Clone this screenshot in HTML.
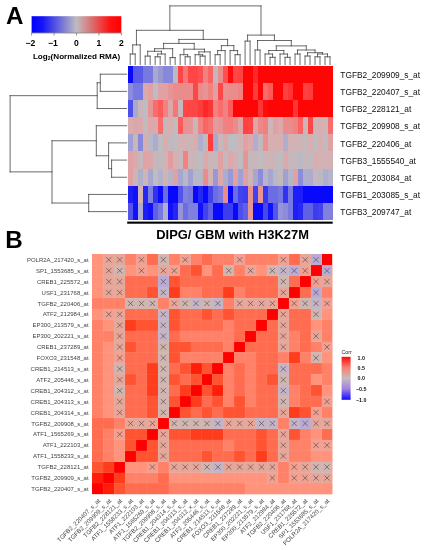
<!DOCTYPE html>
<html><head><meta charset="utf-8"><title>Figure</title>
<style>
html,body{margin:0;padding:0;background:#fff;}
body{width:425px;height:550px;overflow:hidden;font-family:"Liberation Sans",Arial,Helvetica,sans-serif;}
svg{display:block;position:absolute;left:0;top:0;}
text{font-family:"Liberation Sans",Arial,Helvetica,sans-serif;}
</style></head>
<body>
<svg width="425" height="550" viewBox="0 0 425 550">
<defs>
<linearGradient id="cbA" x1="0" x2="1" y1="0" y2="0">
<stop offset="0" stop-color="#0000ff"/><stop offset="0.12" stop-color="#1414f8"/><stop offset="0.5" stop-color="#bebcc0"/><stop offset="0.88" stop-color="#ff1010"/><stop offset="1" stop-color="#ff0000"/>
</linearGradient>
<linearGradient id="cbB" x1="0" x2="0" y1="0" y2="1">
<stop offset="0" stop-color="#ff0a05"/><stop offset="0.25" stop-color="#f48070"/><stop offset="0.5" stop-color="#c8bcbc"/><stop offset="0.75" stop-color="#a080e0"/><stop offset="1" stop-color="#1208ff"/>
</linearGradient>
</defs>
<rect width="425" height="550" fill="#ffffff"/>
<!-- Panel A -->
<text x="6" y="24" font-size="24.2" font-weight="bold" fill="#000">A</text>
<rect x="31.6" y="16.2" width="89.7" height="16.6" fill="url(#cbA)"/>
<path d="M31.2 33H121.7M31.6 33V35.6M54.1 33V35.6M76.5 33V35.6M98.9 33V35.6M121.3 33V35.6" stroke="#555" stroke-width="0.6" fill="none"/>
<g font-size="8.6" font-weight="bold" fill="#000"><text x="30.4" y="46.4" text-anchor="middle">−2</text><text x="52.9" y="46.4" text-anchor="middle">−1</text><text x="76.5" y="46.4" text-anchor="middle">0</text><text x="98.9" y="46.4" text-anchor="middle">1</text><text x="121.3" y="46.4" text-anchor="middle">2</text></g>
<text x="76.6" y="58.8" font-size="8.1" font-weight="bold" fill="#000" text-anchor="middle">Log<tspan font-size="5.2" dy="1.6">2</tspan><tspan dy="-1.6">(Normalized RMA)</tspan></text>
<g shape-rendering="crispEdges">
<rect x="127.70" y="65.60" width="5.05" height="17.23" fill="#0808fc"/>
<rect x="132.70" y="65.60" width="5.05" height="17.23" fill="#5a5ae8"/>
<rect x="137.69" y="65.60" width="5.05" height="17.23" fill="#5a5ae8"/>
<rect x="142.69" y="65.60" width="5.05" height="17.23" fill="#7878e1"/>
<rect x="147.68" y="65.60" width="5.05" height="17.23" fill="#7878e1"/>
<rect x="152.68" y="65.60" width="5.05" height="17.23" fill="#a9a9cf"/>
<rect x="157.67" y="65.60" width="5.05" height="17.23" fill="#9898d5"/>
<rect x="162.67" y="65.60" width="5.05" height="17.23" fill="#8888db"/>
<rect x="167.66" y="65.60" width="5.05" height="17.23" fill="#8888db"/>
<rect x="172.66" y="65.60" width="5.05" height="17.23" fill="#bbb9c3"/>
<rect x="177.65" y="65.60" width="5.05" height="17.23" fill="#ff4646"/>
<rect x="182.65" y="65.60" width="5.05" height="17.23" fill="#f67575"/>
<rect x="187.64" y="65.60" width="5.05" height="17.23" fill="#ff4646"/>
<rect x="192.64" y="65.60" width="5.05" height="17.23" fill="#ff4646"/>
<rect x="197.63" y="65.60" width="5.05" height="17.23" fill="#ff5050"/>
<rect x="202.63" y="65.60" width="5.05" height="17.23" fill="#f08282"/>
<rect x="207.62" y="65.60" width="5.05" height="17.23" fill="#fc6363"/>
<rect x="212.62" y="65.60" width="5.05" height="17.23" fill="#c8b7ba"/>
<rect x="217.61" y="65.60" width="5.05" height="17.23" fill="#eb8c8c"/>
<rect x="222.61" y="65.60" width="5.05" height="17.23" fill="#ff5050"/>
<rect x="227.60" y="65.60" width="5.05" height="17.23" fill="#ff0d0d"/>
<rect x="232.60" y="65.60" width="5.05" height="17.23" fill="#ff4646"/>
<rect x="237.59" y="65.60" width="5.05" height="17.23" fill="#ff4141"/>
<rect x="242.59" y="65.60" width="5.05" height="17.23" fill="#ff0606"/>
<rect x="247.58" y="65.60" width="5.05" height="17.23" fill="#ff0606"/>
<rect x="252.58" y="65.60" width="5.05" height="17.23" fill="#ff2828"/>
<rect x="257.57" y="65.60" width="5.05" height="17.23" fill="#ff0606"/>
<rect x="262.57" y="65.60" width="5.05" height="17.23" fill="#ff0606"/>
<rect x="267.56" y="65.60" width="5.05" height="17.23" fill="#ff0606"/>
<rect x="272.56" y="65.60" width="5.05" height="17.23" fill="#ff0606"/>
<rect x="277.55" y="65.60" width="5.05" height="17.23" fill="#ff0606"/>
<rect x="282.55" y="65.60" width="5.05" height="17.23" fill="#ff0606"/>
<rect x="287.54" y="65.60" width="5.05" height="17.23" fill="#ff0606"/>
<rect x="292.54" y="65.60" width="5.05" height="17.23" fill="#ff0606"/>
<rect x="297.53" y="65.60" width="5.05" height="17.23" fill="#ff0606"/>
<rect x="302.53" y="65.60" width="5.05" height="17.23" fill="#ff0606"/>
<rect x="307.52" y="65.60" width="5.05" height="17.23" fill="#ff0606"/>
<rect x="312.52" y="65.60" width="5.05" height="17.23" fill="#ff0606"/>
<rect x="317.51" y="65.60" width="5.05" height="17.23" fill="#ff0606"/>
<rect x="322.51" y="65.60" width="5.05" height="17.23" fill="#ff0606"/>
<rect x="327.50" y="65.60" width="5.05" height="17.23" fill="#ff0606"/>
<rect x="127.70" y="82.78" width="5.05" height="17.23" fill="#8c8cda"/>
<rect x="132.70" y="82.78" width="5.05" height="17.23" fill="#7878e1"/>
<rect x="137.69" y="82.78" width="5.05" height="17.23" fill="#7878e1"/>
<rect x="142.69" y="82.78" width="5.05" height="17.23" fill="#dba9ab"/>
<rect x="147.68" y="82.78" width="5.05" height="17.23" fill="#e1a0a2"/>
<rect x="152.68" y="82.78" width="5.05" height="17.23" fill="#bebcc0"/>
<rect x="157.67" y="82.78" width="5.05" height="17.23" fill="#e1a0a2"/>
<rect x="162.67" y="82.78" width="5.05" height="17.23" fill="#e1a0a2"/>
<rect x="167.66" y="82.78" width="5.05" height="17.23" fill="#e79495"/>
<rect x="172.66" y="82.78" width="5.05" height="17.23" fill="#eb8c8c"/>
<rect x="177.65" y="82.78" width="5.05" height="17.23" fill="#eb8c8c"/>
<rect x="182.65" y="82.78" width="5.05" height="17.23" fill="#eb8c8c"/>
<rect x="187.64" y="82.78" width="5.05" height="17.23" fill="#eb8c8c"/>
<rect x="192.64" y="82.78" width="5.05" height="17.23" fill="#ff4646"/>
<rect x="197.63" y="82.78" width="5.05" height="17.23" fill="#eb8c8c"/>
<rect x="202.63" y="82.78" width="5.05" height="17.23" fill="#e79495"/>
<rect x="207.62" y="82.78" width="5.05" height="17.23" fill="#f08282"/>
<rect x="212.62" y="82.78" width="5.05" height="17.23" fill="#e1a0a2"/>
<rect x="217.61" y="82.78" width="5.05" height="17.23" fill="#ff4646"/>
<rect x="222.61" y="82.78" width="5.05" height="17.23" fill="#e99090"/>
<rect x="227.60" y="82.78" width="5.05" height="17.23" fill="#eb8c8c"/>
<rect x="232.60" y="82.78" width="5.05" height="17.23" fill="#eb8c8c"/>
<rect x="237.59" y="82.78" width="5.05" height="17.23" fill="#f08282"/>
<rect x="242.59" y="82.78" width="5.05" height="17.23" fill="#ff0606"/>
<rect x="247.58" y="82.78" width="5.05" height="17.23" fill="#ff0606"/>
<rect x="252.58" y="82.78" width="5.05" height="17.23" fill="#ff3c3c"/>
<rect x="257.57" y="82.78" width="5.05" height="17.23" fill="#ff0606"/>
<rect x="262.57" y="82.78" width="5.05" height="17.23" fill="#fa6c6c"/>
<rect x="267.56" y="82.78" width="5.05" height="17.23" fill="#ff5a5a"/>
<rect x="272.56" y="82.78" width="5.05" height="17.23" fill="#ff0606"/>
<rect x="277.55" y="82.78" width="5.05" height="17.23" fill="#ff0606"/>
<rect x="282.55" y="82.78" width="5.05" height="17.23" fill="#ff4141"/>
<rect x="287.54" y="82.78" width="5.05" height="17.23" fill="#ff3535"/>
<rect x="292.54" y="82.78" width="5.05" height="17.23" fill="#ff0606"/>
<rect x="297.53" y="82.78" width="5.05" height="17.23" fill="#ff0606"/>
<rect x="302.53" y="82.78" width="5.05" height="17.23" fill="#ff4141"/>
<rect x="307.52" y="82.78" width="5.05" height="17.23" fill="#ff3c3c"/>
<rect x="312.52" y="82.78" width="5.05" height="17.23" fill="#ff0606"/>
<rect x="317.51" y="82.78" width="5.05" height="17.23" fill="#ff0606"/>
<rect x="322.51" y="82.78" width="5.05" height="17.23" fill="#ff0606"/>
<rect x="327.50" y="82.78" width="5.05" height="17.23" fill="#ff0606"/>
<rect x="127.70" y="99.96" width="5.05" height="17.23" fill="#4e4eec"/>
<rect x="132.70" y="99.96" width="5.05" height="17.23" fill="#a9a9cf"/>
<rect x="137.69" y="99.96" width="5.05" height="17.23" fill="#c8b7ba"/>
<rect x="142.69" y="99.96" width="5.05" height="17.23" fill="#bebcc0"/>
<rect x="147.68" y="99.96" width="5.05" height="17.23" fill="#e79495"/>
<rect x="152.68" y="99.96" width="5.05" height="17.23" fill="#fa6c6c"/>
<rect x="157.67" y="99.96" width="5.05" height="17.23" fill="#ff5a5a"/>
<rect x="162.67" y="99.96" width="5.05" height="17.23" fill="#f08282"/>
<rect x="167.66" y="99.96" width="5.05" height="17.23" fill="#dda6a8"/>
<rect x="172.66" y="99.96" width="5.05" height="17.23" fill="#f67575"/>
<rect x="177.65" y="99.96" width="5.05" height="17.23" fill="#c8b7ba"/>
<rect x="182.65" y="99.96" width="5.05" height="17.23" fill="#ff4646"/>
<rect x="187.64" y="99.96" width="5.05" height="17.23" fill="#ff4646"/>
<rect x="192.64" y="99.96" width="5.05" height="17.23" fill="#ff4646"/>
<rect x="197.63" y="99.96" width="5.05" height="17.23" fill="#ff3c3c"/>
<rect x="202.63" y="99.96" width="5.05" height="17.23" fill="#ff2828"/>
<rect x="207.62" y="99.96" width="5.05" height="17.23" fill="#ff3535"/>
<rect x="212.62" y="99.96" width="5.05" height="17.23" fill="#f08282"/>
<rect x="217.61" y="99.96" width="5.05" height="17.23" fill="#fa6c6c"/>
<rect x="222.61" y="99.96" width="5.05" height="17.23" fill="#f08282"/>
<rect x="227.60" y="99.96" width="5.05" height="17.23" fill="#ff5a5a"/>
<rect x="232.60" y="99.96" width="5.05" height="17.23" fill="#ff0606"/>
<rect x="237.59" y="99.96" width="5.05" height="17.23" fill="#ff0606"/>
<rect x="242.59" y="99.96" width="5.05" height="17.23" fill="#ff0606"/>
<rect x="247.58" y="99.96" width="5.05" height="17.23" fill="#ff0606"/>
<rect x="252.58" y="99.96" width="5.05" height="17.23" fill="#ff0606"/>
<rect x="257.57" y="99.96" width="5.05" height="17.23" fill="#ff3535"/>
<rect x="262.57" y="99.96" width="5.05" height="17.23" fill="#ff0d0d"/>
<rect x="267.56" y="99.96" width="5.05" height="17.23" fill="#ff0606"/>
<rect x="272.56" y="99.96" width="5.05" height="17.23" fill="#ff0606"/>
<rect x="277.55" y="99.96" width="5.05" height="17.23" fill="#ff0606"/>
<rect x="282.55" y="99.96" width="5.05" height="17.23" fill="#ff0606"/>
<rect x="287.54" y="99.96" width="5.05" height="17.23" fill="#ff0606"/>
<rect x="292.54" y="99.96" width="5.05" height="17.23" fill="#ff3535"/>
<rect x="297.53" y="99.96" width="5.05" height="17.23" fill="#ff0606"/>
<rect x="302.53" y="99.96" width="5.05" height="17.23" fill="#ff0606"/>
<rect x="307.52" y="99.96" width="5.05" height="17.23" fill="#ff0606"/>
<rect x="312.52" y="99.96" width="5.05" height="17.23" fill="#ff0606"/>
<rect x="317.51" y="99.96" width="5.05" height="17.23" fill="#ff0606"/>
<rect x="322.51" y="99.96" width="5.05" height="17.23" fill="#ff0606"/>
<rect x="327.50" y="99.96" width="5.05" height="17.23" fill="#ff0606"/>
<rect x="127.70" y="117.13" width="5.05" height="17.23" fill="#d9acae"/>
<rect x="132.70" y="117.13" width="5.05" height="17.23" fill="#dda6a8"/>
<rect x="137.69" y="117.13" width="5.05" height="17.23" fill="#dba9ab"/>
<rect x="142.69" y="117.13" width="5.05" height="17.23" fill="#c3b9bd"/>
<rect x="147.68" y="117.13" width="5.05" height="17.23" fill="#dda6a8"/>
<rect x="152.68" y="117.13" width="5.05" height="17.23" fill="#dba9ab"/>
<rect x="157.67" y="117.13" width="5.05" height="17.23" fill="#fa6c6c"/>
<rect x="162.67" y="117.13" width="5.05" height="17.23" fill="#c8b7ba"/>
<rect x="167.66" y="117.13" width="5.05" height="17.23" fill="#d7afb1"/>
<rect x="172.66" y="117.13" width="5.05" height="17.23" fill="#bebcc0"/>
<rect x="177.65" y="117.13" width="5.05" height="17.23" fill="#ff5a5a"/>
<rect x="182.65" y="117.13" width="5.05" height="17.23" fill="#e99090"/>
<rect x="187.64" y="117.13" width="5.05" height="17.23" fill="#e79495"/>
<rect x="192.64" y="117.13" width="5.05" height="17.23" fill="#cdb4b7"/>
<rect x="197.63" y="117.13" width="5.05" height="17.23" fill="#f08282"/>
<rect x="202.63" y="117.13" width="5.05" height="17.23" fill="#fc6363"/>
<rect x="207.62" y="117.13" width="5.05" height="17.23" fill="#f87070"/>
<rect x="212.62" y="117.13" width="5.05" height="17.23" fill="#e39c9e"/>
<rect x="217.61" y="117.13" width="5.05" height="17.23" fill="#e79495"/>
<rect x="222.61" y="117.13" width="5.05" height="17.23" fill="#f08282"/>
<rect x="227.60" y="117.13" width="5.05" height="17.23" fill="#f27e7e"/>
<rect x="232.60" y="117.13" width="5.05" height="17.23" fill="#eb8c8c"/>
<rect x="237.59" y="117.13" width="5.05" height="17.23" fill="#dfa3a5"/>
<rect x="242.59" y="117.13" width="5.05" height="17.23" fill="#ff4141"/>
<rect x="247.58" y="117.13" width="5.05" height="17.23" fill="#ff4646"/>
<rect x="252.58" y="117.13" width="5.05" height="17.23" fill="#dda6a8"/>
<rect x="257.57" y="117.13" width="5.05" height="17.23" fill="#ee8787"/>
<rect x="262.57" y="117.13" width="5.05" height="17.23" fill="#f27e7e"/>
<rect x="267.56" y="117.13" width="5.05" height="17.23" fill="#cdb4b7"/>
<rect x="272.56" y="117.13" width="5.05" height="17.23" fill="#e1a0a2"/>
<rect x="277.55" y="117.13" width="5.05" height="17.23" fill="#dba9ab"/>
<rect x="282.55" y="117.13" width="5.05" height="17.23" fill="#eb8c8c"/>
<rect x="287.54" y="117.13" width="5.05" height="17.23" fill="#eb8c8c"/>
<rect x="292.54" y="117.13" width="5.05" height="17.23" fill="#f08282"/>
<rect x="297.53" y="117.13" width="5.05" height="17.23" fill="#fc6363"/>
<rect x="302.53" y="117.13" width="5.05" height="17.23" fill="#cdb4b7"/>
<rect x="307.52" y="117.13" width="5.05" height="17.23" fill="#ff4646"/>
<rect x="312.52" y="117.13" width="5.05" height="17.23" fill="#cdb4b7"/>
<rect x="317.51" y="117.13" width="5.05" height="17.23" fill="#d7afb1"/>
<rect x="322.51" y="117.13" width="5.05" height="17.23" fill="#cdb4b7"/>
<rect x="327.50" y="117.13" width="5.05" height="17.23" fill="#fa6c6c"/>
<rect x="127.70" y="134.31" width="5.05" height="17.23" fill="#a0a0d2"/>
<rect x="132.70" y="134.31" width="5.05" height="17.23" fill="#c8b7ba"/>
<rect x="137.69" y="134.31" width="5.05" height="17.23" fill="#8888db"/>
<rect x="142.69" y="134.31" width="5.05" height="17.23" fill="#d7afb1"/>
<rect x="147.68" y="134.31" width="5.05" height="17.23" fill="#b8b7c5"/>
<rect x="152.68" y="134.31" width="5.05" height="17.23" fill="#acacce"/>
<rect x="157.67" y="134.31" width="5.05" height="17.23" fill="#bebcc0"/>
<rect x="162.67" y="134.31" width="5.05" height="17.23" fill="#d9acae"/>
<rect x="167.66" y="134.31" width="5.05" height="17.23" fill="#c3b9bd"/>
<rect x="172.66" y="134.31" width="5.05" height="17.23" fill="#bebcc0"/>
<rect x="177.65" y="134.31" width="5.05" height="17.23" fill="#d2b2b4"/>
<rect x="182.65" y="134.31" width="5.05" height="17.23" fill="#d2b2b4"/>
<rect x="187.64" y="134.31" width="5.05" height="17.23" fill="#cdb4b7"/>
<rect x="192.64" y="134.31" width="5.05" height="17.23" fill="#d9acae"/>
<rect x="197.63" y="134.31" width="5.05" height="17.23" fill="#afafcd"/>
<rect x="202.63" y="134.31" width="5.05" height="17.23" fill="#c3b9bd"/>
<rect x="207.62" y="134.31" width="5.05" height="17.23" fill="#ff3c3c"/>
<rect x="212.62" y="134.31" width="5.05" height="17.23" fill="#a9a9cf"/>
<rect x="217.61" y="134.31" width="5.05" height="17.23" fill="#c8b7ba"/>
<rect x="222.61" y="134.31" width="5.05" height="17.23" fill="#dba9ab"/>
<rect x="227.60" y="134.31" width="5.05" height="17.23" fill="#bebcc0"/>
<rect x="232.60" y="134.31" width="5.05" height="17.23" fill="#bebcc0"/>
<rect x="237.59" y="134.31" width="5.05" height="17.23" fill="#cdb4b7"/>
<rect x="242.59" y="134.31" width="5.05" height="17.23" fill="#e1a0a2"/>
<rect x="247.58" y="134.31" width="5.05" height="17.23" fill="#dba9ab"/>
<rect x="252.58" y="134.31" width="5.05" height="17.23" fill="#afafcd"/>
<rect x="257.57" y="134.31" width="5.05" height="17.23" fill="#c3b9bd"/>
<rect x="262.57" y="134.31" width="5.05" height="17.23" fill="#e99090"/>
<rect x="267.56" y="134.31" width="5.05" height="17.23" fill="#d7afb1"/>
<rect x="272.56" y="134.31" width="5.05" height="17.23" fill="#d7afb1"/>
<rect x="277.55" y="134.31" width="5.05" height="17.23" fill="#d7afb1"/>
<rect x="282.55" y="134.31" width="5.05" height="17.23" fill="#afafcd"/>
<rect x="287.54" y="134.31" width="5.05" height="17.23" fill="#d2b2b4"/>
<rect x="292.54" y="134.31" width="5.05" height="17.23" fill="#d2b2b4"/>
<rect x="297.53" y="134.31" width="5.05" height="17.23" fill="#cdb4b7"/>
<rect x="302.53" y="134.31" width="5.05" height="17.23" fill="#c3b9bd"/>
<rect x="307.52" y="134.31" width="5.05" height="17.23" fill="#d7afb1"/>
<rect x="312.52" y="134.31" width="5.05" height="17.23" fill="#bebcc0"/>
<rect x="317.51" y="134.31" width="5.05" height="17.23" fill="#d7afb1"/>
<rect x="322.51" y="134.31" width="5.05" height="17.23" fill="#bebcc0"/>
<rect x="327.50" y="134.31" width="5.05" height="17.23" fill="#e1a0a2"/>
<rect x="127.70" y="151.49" width="5.05" height="17.23" fill="#dfa3a5"/>
<rect x="132.70" y="151.49" width="5.05" height="17.23" fill="#dba9ab"/>
<rect x="137.69" y="151.49" width="5.05" height="17.23" fill="#c8b7ba"/>
<rect x="142.69" y="151.49" width="5.05" height="17.23" fill="#dfa3a5"/>
<rect x="147.68" y="151.49" width="5.05" height="17.23" fill="#dda6a8"/>
<rect x="152.68" y="151.49" width="5.05" height="17.23" fill="#c3b9bd"/>
<rect x="157.67" y="151.49" width="5.05" height="17.23" fill="#c3b9bd"/>
<rect x="162.67" y="151.49" width="5.05" height="17.23" fill="#d2b2b4"/>
<rect x="167.66" y="151.49" width="5.05" height="17.23" fill="#e39c9e"/>
<rect x="172.66" y="151.49" width="5.05" height="17.23" fill="#d7afb1"/>
<rect x="177.65" y="151.49" width="5.05" height="17.23" fill="#c8b7ba"/>
<rect x="182.65" y="151.49" width="5.05" height="17.23" fill="#f08282"/>
<rect x="187.64" y="151.49" width="5.05" height="17.23" fill="#cdb4b7"/>
<rect x="192.64" y="151.49" width="5.05" height="17.23" fill="#c3b9bd"/>
<rect x="197.63" y="151.49" width="5.05" height="17.23" fill="#bebcc0"/>
<rect x="202.63" y="151.49" width="5.05" height="17.23" fill="#dba9ab"/>
<rect x="207.62" y="151.49" width="5.05" height="17.23" fill="#cdb4b7"/>
<rect x="212.62" y="151.49" width="5.05" height="17.23" fill="#c3b9bd"/>
<rect x="217.61" y="151.49" width="5.05" height="17.23" fill="#e1a0a2"/>
<rect x="222.61" y="151.49" width="5.05" height="17.23" fill="#c3b9bd"/>
<rect x="227.60" y="151.49" width="5.05" height="17.23" fill="#dba9ab"/>
<rect x="232.60" y="151.49" width="5.05" height="17.23" fill="#d7afb1"/>
<rect x="237.59" y="151.49" width="5.05" height="17.23" fill="#bebcc0"/>
<rect x="242.59" y="151.49" width="5.05" height="17.23" fill="#e79495"/>
<rect x="247.58" y="151.49" width="5.05" height="17.23" fill="#c3b9bd"/>
<rect x="252.58" y="151.49" width="5.05" height="17.23" fill="#cdb4b7"/>
<rect x="257.57" y="151.49" width="5.05" height="17.23" fill="#bebcc0"/>
<rect x="262.57" y="151.49" width="5.05" height="17.23" fill="#cdb4b7"/>
<rect x="267.56" y="151.49" width="5.05" height="17.23" fill="#cdb4b7"/>
<rect x="272.56" y="151.49" width="5.05" height="17.23" fill="#c8b7ba"/>
<rect x="277.55" y="151.49" width="5.05" height="17.23" fill="#bebcc0"/>
<rect x="282.55" y="151.49" width="5.05" height="17.23" fill="#dba9ab"/>
<rect x="287.54" y="151.49" width="5.05" height="17.23" fill="#c8b7ba"/>
<rect x="292.54" y="151.49" width="5.05" height="17.23" fill="#c3b9bd"/>
<rect x="297.53" y="151.49" width="5.05" height="17.23" fill="#bbb9c3"/>
<rect x="302.53" y="151.49" width="5.05" height="17.23" fill="#c8b7ba"/>
<rect x="307.52" y="151.49" width="5.05" height="17.23" fill="#c3b9bd"/>
<rect x="312.52" y="151.49" width="5.05" height="17.23" fill="#d7afb1"/>
<rect x="317.51" y="151.49" width="5.05" height="17.23" fill="#d2b2b4"/>
<rect x="322.51" y="151.49" width="5.05" height="17.23" fill="#d2b2b4"/>
<rect x="327.50" y="151.49" width="5.05" height="17.23" fill="#d2b2b4"/>
<rect x="127.70" y="168.67" width="5.05" height="17.23" fill="#e1a0a2"/>
<rect x="132.70" y="168.67" width="5.05" height="17.23" fill="#cdb4b7"/>
<rect x="137.69" y="168.67" width="5.05" height="17.23" fill="#afafcd"/>
<rect x="142.69" y="168.67" width="5.05" height="17.23" fill="#cdb4b7"/>
<rect x="147.68" y="168.67" width="5.05" height="17.23" fill="#a6a6d0"/>
<rect x="152.68" y="168.67" width="5.05" height="17.23" fill="#bebcc0"/>
<rect x="157.67" y="168.67" width="5.05" height="17.23" fill="#b2b2ca"/>
<rect x="162.67" y="168.67" width="5.05" height="17.23" fill="#d2b2b4"/>
<rect x="167.66" y="168.67" width="5.05" height="17.23" fill="#b5b4c8"/>
<rect x="172.66" y="168.67" width="5.05" height="17.23" fill="#e1a0a2"/>
<rect x="177.65" y="168.67" width="5.05" height="17.23" fill="#a6a6d0"/>
<rect x="182.65" y="168.67" width="5.05" height="17.23" fill="#b8b7c5"/>
<rect x="187.64" y="168.67" width="5.05" height="17.23" fill="#a0a0d2"/>
<rect x="192.64" y="168.67" width="5.05" height="17.23" fill="#b8b7c5"/>
<rect x="197.63" y="168.67" width="5.05" height="17.23" fill="#b8b7c5"/>
<rect x="202.63" y="168.67" width="5.05" height="17.23" fill="#eb8c8c"/>
<rect x="207.62" y="168.67" width="5.05" height="17.23" fill="#d2b2b4"/>
<rect x="212.62" y="168.67" width="5.05" height="17.23" fill="#9898d5"/>
<rect x="217.61" y="168.67" width="5.05" height="17.23" fill="#dba9ab"/>
<rect x="222.61" y="168.67" width="5.05" height="17.23" fill="#acacce"/>
<rect x="227.60" y="168.67" width="5.05" height="17.23" fill="#9898d5"/>
<rect x="232.60" y="168.67" width="5.05" height="17.23" fill="#e1a0a2"/>
<rect x="237.59" y="168.67" width="5.05" height="17.23" fill="#a0a0d2"/>
<rect x="242.59" y="168.67" width="5.05" height="17.23" fill="#e1a0a2"/>
<rect x="247.58" y="168.67" width="5.05" height="17.23" fill="#cdb4b7"/>
<rect x="252.58" y="168.67" width="5.05" height="17.23" fill="#a6a6d0"/>
<rect x="257.57" y="168.67" width="5.05" height="17.23" fill="#8c8cda"/>
<rect x="262.57" y="168.67" width="5.05" height="17.23" fill="#b5b4c8"/>
<rect x="267.56" y="168.67" width="5.05" height="17.23" fill="#a6a6d0"/>
<rect x="272.56" y="168.67" width="5.05" height="17.23" fill="#b8b7c5"/>
<rect x="277.55" y="168.67" width="5.05" height="17.23" fill="#c3b9bd"/>
<rect x="282.55" y="168.67" width="5.05" height="17.23" fill="#a0a0d2"/>
<rect x="287.54" y="168.67" width="5.05" height="17.23" fill="#b5b4c8"/>
<rect x="292.54" y="168.67" width="5.05" height="17.23" fill="#e1a0a2"/>
<rect x="297.53" y="168.67" width="5.05" height="17.23" fill="#8c8cda"/>
<rect x="302.53" y="168.67" width="5.05" height="17.23" fill="#afafcd"/>
<rect x="307.52" y="168.67" width="5.05" height="17.23" fill="#acacce"/>
<rect x="312.52" y="168.67" width="5.05" height="17.23" fill="#c8b7ba"/>
<rect x="317.51" y="168.67" width="5.05" height="17.23" fill="#bbb9c3"/>
<rect x="322.51" y="168.67" width="5.05" height="17.23" fill="#afafcd"/>
<rect x="327.50" y="168.67" width="5.05" height="17.23" fill="#b5b4c8"/>
<rect x="127.70" y="185.84" width="5.05" height="17.23" fill="#1d1df7"/>
<rect x="132.70" y="185.84" width="5.05" height="17.23" fill="#1212fa"/>
<rect x="137.69" y="185.84" width="5.05" height="17.23" fill="#d2b2b4"/>
<rect x="142.69" y="185.84" width="5.05" height="17.23" fill="#2727f5"/>
<rect x="147.68" y="185.84" width="5.05" height="17.23" fill="#8080de"/>
<rect x="152.68" y="185.84" width="5.05" height="17.23" fill="#3232f2"/>
<rect x="157.67" y="185.84" width="5.05" height="17.23" fill="#0d0dfb"/>
<rect x="162.67" y="185.84" width="5.05" height="17.23" fill="#6c6ce4"/>
<rect x="167.66" y="185.84" width="5.05" height="17.23" fill="#0808fc"/>
<rect x="172.66" y="185.84" width="5.05" height="17.23" fill="#0808fc"/>
<rect x="177.65" y="185.84" width="5.05" height="17.23" fill="#5454ea"/>
<rect x="182.65" y="185.84" width="5.05" height="17.23" fill="#8080de"/>
<rect x="187.64" y="185.84" width="5.05" height="17.23" fill="#7878e1"/>
<rect x="192.64" y="185.84" width="5.05" height="17.23" fill="#0808fc"/>
<rect x="197.63" y="185.84" width="5.05" height="17.23" fill="#2727f5"/>
<rect x="202.63" y="185.84" width="5.05" height="17.23" fill="#0808fc"/>
<rect x="207.62" y="185.84" width="5.05" height="17.23" fill="#4242ee"/>
<rect x="212.62" y="185.84" width="5.05" height="17.23" fill="#6c6ce4"/>
<rect x="217.61" y="185.84" width="5.05" height="17.23" fill="#7878e1"/>
<rect x="222.61" y="185.84" width="5.05" height="17.23" fill="#eb8c8c"/>
<rect x="227.60" y="185.84" width="5.05" height="17.23" fill="#0808fc"/>
<rect x="232.60" y="185.84" width="5.05" height="17.23" fill="#6c6ce4"/>
<rect x="237.59" y="185.84" width="5.05" height="17.23" fill="#4242ee"/>
<rect x="242.59" y="185.84" width="5.05" height="17.23" fill="#3c3cf0"/>
<rect x="247.58" y="185.84" width="5.05" height="17.23" fill="#e99090"/>
<rect x="252.58" y="185.84" width="5.05" height="17.23" fill="#4242ee"/>
<rect x="257.57" y="185.84" width="5.05" height="17.23" fill="#e79495"/>
<rect x="262.57" y="185.84" width="5.05" height="17.23" fill="#3737f1"/>
<rect x="267.56" y="185.84" width="5.05" height="17.23" fill="#6c6ce4"/>
<rect x="272.56" y="185.84" width="5.05" height="17.23" fill="#6c6ce4"/>
<rect x="277.55" y="185.84" width="5.05" height="17.23" fill="#7878e1"/>
<rect x="282.55" y="185.84" width="5.05" height="17.23" fill="#3232f2"/>
<rect x="287.54" y="185.84" width="5.05" height="17.23" fill="#7878e1"/>
<rect x="292.54" y="185.84" width="5.05" height="17.23" fill="#1d1df7"/>
<rect x="297.53" y="185.84" width="5.05" height="17.23" fill="#1d1df7"/>
<rect x="302.53" y="185.84" width="5.05" height="17.23" fill="#0808fc"/>
<rect x="307.52" y="185.84" width="5.05" height="17.23" fill="#0808fc"/>
<rect x="312.52" y="185.84" width="5.05" height="17.23" fill="#0808fc"/>
<rect x="317.51" y="185.84" width="5.05" height="17.23" fill="#0808fc"/>
<rect x="322.51" y="185.84" width="5.05" height="17.23" fill="#0808fc"/>
<rect x="327.50" y="185.84" width="5.05" height="17.23" fill="#0808fc"/>
<rect x="127.70" y="203.02" width="5.05" height="17.23" fill="#5454ea"/>
<rect x="132.70" y="203.02" width="5.05" height="17.23" fill="#1212fa"/>
<rect x="137.69" y="203.02" width="5.05" height="17.23" fill="#acacce"/>
<rect x="142.69" y="203.02" width="5.05" height="17.23" fill="#1d1df7"/>
<rect x="147.68" y="203.02" width="5.05" height="17.23" fill="#1212fa"/>
<rect x="152.68" y="203.02" width="5.05" height="17.23" fill="#6060e7"/>
<rect x="157.67" y="203.02" width="5.05" height="17.23" fill="#7878e1"/>
<rect x="162.67" y="203.02" width="5.05" height="17.23" fill="#afafcd"/>
<rect x="167.66" y="203.02" width="5.05" height="17.23" fill="#1212fa"/>
<rect x="172.66" y="203.02" width="5.05" height="17.23" fill="#2727f5"/>
<rect x="177.65" y="203.02" width="5.05" height="17.23" fill="#9494d6"/>
<rect x="182.65" y="203.02" width="5.05" height="17.23" fill="#6c6ce4"/>
<rect x="187.64" y="203.02" width="5.05" height="17.23" fill="#8080de"/>
<rect x="192.64" y="203.02" width="5.05" height="17.23" fill="#8080de"/>
<rect x="197.63" y="203.02" width="5.05" height="17.23" fill="#1212fa"/>
<rect x="202.63" y="203.02" width="5.05" height="17.23" fill="#4242ee"/>
<rect x="207.62" y="203.02" width="5.05" height="17.23" fill="#6060e7"/>
<rect x="212.62" y="203.02" width="5.05" height="17.23" fill="#0808fc"/>
<rect x="217.61" y="203.02" width="5.05" height="17.23" fill="#0808fc"/>
<rect x="222.61" y="203.02" width="5.05" height="17.23" fill="#3c3cf0"/>
<rect x="227.60" y="203.02" width="5.05" height="17.23" fill="#3c3cf0"/>
<rect x="232.60" y="203.02" width="5.05" height="17.23" fill="#0808fc"/>
<rect x="237.59" y="203.02" width="5.05" height="17.23" fill="#4e4eec"/>
<rect x="242.59" y="203.02" width="5.05" height="17.23" fill="#6060e7"/>
<rect x="247.58" y="203.02" width="5.05" height="17.23" fill="#e79495"/>
<rect x="252.58" y="203.02" width="5.05" height="17.23" fill="#0808fc"/>
<rect x="257.57" y="203.02" width="5.05" height="17.23" fill="#0808fc"/>
<rect x="262.57" y="203.02" width="5.05" height="17.23" fill="#4848ed"/>
<rect x="267.56" y="203.02" width="5.05" height="17.23" fill="#1212fa"/>
<rect x="272.56" y="203.02" width="5.05" height="17.23" fill="#5454ea"/>
<rect x="277.55" y="203.02" width="5.05" height="17.23" fill="#9494d6"/>
<rect x="282.55" y="203.02" width="5.05" height="17.23" fill="#8c8cda"/>
<rect x="287.54" y="203.02" width="5.05" height="17.23" fill="#7878e1"/>
<rect x="292.54" y="203.02" width="5.05" height="17.23" fill="#1d1df7"/>
<rect x="297.53" y="203.02" width="5.05" height="17.23" fill="#2727f5"/>
<rect x="302.53" y="203.02" width="5.05" height="17.23" fill="#6060e7"/>
<rect x="307.52" y="203.02" width="5.05" height="17.23" fill="#6060e7"/>
<rect x="312.52" y="203.02" width="5.05" height="17.23" fill="#3c3cf0"/>
<rect x="317.51" y="203.02" width="5.05" height="17.23" fill="#4242ee"/>
<rect x="322.51" y="203.02" width="5.05" height="17.23" fill="#8080de"/>
<rect x="327.50" y="203.02" width="5.05" height="17.23" fill="#8080de"/>
</g>
<path d="M100.30 74.19L100.30 91.37M100.30 74.19L126.60 74.19M100.30 91.37L126.60 91.37M97.20 82.78L97.20 108.54M97.20 82.78L100.30 82.78M97.20 108.54L126.60 108.54M111.60 160.08L111.60 177.26M111.60 160.08L126.60 160.08M111.60 177.26L126.60 177.26M108.60 142.90L108.60 168.67M108.60 142.90L126.60 142.90M108.60 168.67L111.60 168.67M96.30 125.72L96.30 155.78M96.30 125.72L126.60 125.72M96.30 155.78L108.60 155.78M88.70 194.43L88.70 211.61M88.70 194.43L126.60 194.43M88.70 211.61L126.60 211.61M52.00 140.75L52.00 203.02M52.00 140.75L96.30 140.75M52.00 203.02L88.70 203.02M10.10 95.66L10.10 171.89M10.10 95.66L97.20 95.66M10.10 171.89L52.00 171.89" stroke="#3a3a3a" stroke-width="0.75" fill="none" stroke-linecap="square"/>
<path d="M130.20 54.00L135.19 54.00M130.20 54.00L130.20 64.60M135.19 54.00L135.19 64.60M132.70 44.90L140.19 44.90M132.70 44.90L132.70 54.00M140.19 44.90L140.19 64.60M145.18 56.10L150.18 56.10M145.18 56.10L145.18 64.60M150.18 56.10L150.18 64.60M155.17 56.80L160.17 56.80M155.17 56.80L155.17 64.60M160.17 56.80L160.17 64.60M157.67 54.00L165.16 54.00M157.67 54.00L157.67 56.80M165.16 54.00L165.16 64.60M147.68 51.30L161.42 51.30M147.68 51.30L147.68 56.10M161.42 51.30L161.42 54.00M170.16 57.60L175.15 57.60M170.16 57.60L170.16 64.60M175.15 57.60L175.15 64.60M154.55 48.70L172.66 48.70M154.55 48.70L154.55 51.30M172.66 48.70L172.66 57.60M185.14 56.80L190.14 56.80M185.14 56.80L185.14 64.60M190.14 56.80L190.14 64.60M180.15 54.70L187.64 54.70M180.15 54.70L180.15 64.60M187.64 54.70L187.64 56.80M200.13 56.10L205.12 56.10M200.13 56.10L200.13 64.60M205.12 56.10L205.12 64.60M195.13 54.70L202.63 54.70M195.13 54.70L195.13 64.60M202.63 54.70L202.63 56.10M198.88 51.90L210.12 51.90M198.88 51.90L198.88 54.70M210.12 51.90L210.12 64.60M183.90 49.20L204.50 49.20M183.90 49.20L183.90 54.70M204.50 49.20L204.50 51.90M163.60 43.40L194.20 43.40M163.60 43.40L163.60 48.70M194.20 43.40L194.20 49.20M215.11 54.70L220.11 54.70M215.11 54.70L215.11 64.60M220.11 54.70L220.11 64.60M217.61 50.60L225.10 50.60M217.61 50.60L217.61 54.70M225.10 50.60L225.10 64.60M235.10 54.70L240.09 54.70M235.10 54.70L235.10 64.60M240.09 54.70L240.09 64.60M230.10 50.60L237.59 50.60M230.10 50.60L230.10 64.60M237.59 50.60L237.59 54.70M221.36 45.65L233.85 45.65M221.36 45.65L221.36 50.60M233.85 45.65L233.85 50.60M178.90 39.40L227.60 39.40M178.90 39.40L178.90 43.40M227.60 39.40L227.60 45.65M136.44 30.30L203.25 30.30M136.44 30.30L136.44 44.90M203.25 30.30L203.25 39.40M245.09 41.10L250.08 41.10M245.09 41.10L245.09 64.60M250.08 41.10L250.08 64.60M255.08 50.00L260.07 50.00M255.08 50.00L255.08 64.60M260.07 50.00L260.07 64.60M270.06 57.30L275.06 57.30M270.06 57.30L270.06 64.60M275.06 57.30L275.06 64.60M265.07 54.00L272.56 54.00M265.07 54.00L265.07 64.60M272.56 54.00L272.56 57.30M285.05 57.30L290.04 57.30M285.05 57.30L285.05 64.60M290.04 57.30L290.04 64.60M280.05 54.00L287.54 54.00M280.05 54.00L280.05 64.60M287.54 54.00L287.54 57.30M268.81 50.50L283.80 50.50M268.81 50.50L268.81 54.00M283.80 50.50L283.80 54.00M295.04 54.00L300.03 54.00M295.04 54.00L295.04 64.60M300.03 54.00L300.03 64.60M305.03 56.00L310.02 56.00M305.03 56.00L305.03 64.60M310.02 56.00L310.02 64.60M315.02 56.80L320.01 56.80M315.02 56.80L315.02 64.60M320.01 56.80L320.01 64.60M325.01 56.80L330.00 56.80M325.01 56.80L325.01 64.60M330.00 56.80L330.00 64.60M317.51 54.00L327.50 54.00M317.51 54.00L317.51 56.80M327.50 54.00L327.50 56.80M307.52 52.70L322.51 52.70M307.52 52.70L307.52 56.00M322.51 52.70L322.51 54.00M297.53 50.00L315.02 50.00M297.53 50.00L297.53 54.00M315.02 50.00L315.02 52.70M276.30 45.90L306.28 45.90M276.30 45.90L276.30 50.50M306.28 45.90L306.28 50.00M257.57 40.50L291.29 40.50M257.57 40.50L257.57 50.00M291.29 40.50L291.29 45.90M247.58 35.10L274.43 35.10M247.58 35.10L247.58 41.10M274.43 35.10L274.43 40.50M169.85 5.90L261.01 5.90M169.85 5.90L169.85 30.30M261.01 5.90L261.01 35.10" stroke="#3a3a3a" stroke-width="0.75" fill="none" stroke-linecap="square"/>
<g font-size="8.35" fill="#111"><text x="340.3" y="77.79">TGFB2_209909_s_at</text><text x="340.3" y="94.97">TGFB2_220407_s_at</text><text x="340.3" y="112.14">TGFB2_228121_at</text><text x="340.3" y="129.32">TGFB2_209908_s_at</text><text x="340.3" y="146.50">TGFB2_220406_at</text><text x="340.3" y="163.68">TGFB3_1555540_at</text><text x="340.3" y="180.86">TGFB1_203084_at</text><text x="340.3" y="198.03">TGFB1_203085_s_at</text><text x="340.3" y="215.21">TGFB3_209747_at</text></g>
<rect x="127.2" y="221.6" width="205.5" height="2.1" fill="#000"/>
<text x="232.6" y="238.9" font-size="12.9" font-weight="bold" fill="#000" text-anchor="middle">DIPG/ GBM with H3K27M</text>
<!-- Panel B -->
<text x="5.2" y="247.6" font-size="24.2" font-weight="bold" fill="#000">B</text>
<rect x="92.40" y="254.30" width="240.02" height="240.02" fill="#ff8a72"/>
<g shape-rendering="crispEdges">
<rect x="92.40" y="254.30" width="10.96" height="10.96" fill="#ff937c"/>
<rect x="103.31" y="254.30" width="10.96" height="10.96" fill="#e6a79a"/>
<rect x="114.22" y="254.30" width="10.96" height="10.96" fill="#e6a79a"/>
<rect x="125.13" y="254.30" width="10.96" height="10.96" fill="#ff8168"/>
<rect x="136.04" y="254.30" width="10.96" height="10.96" fill="#f2a091"/>
<rect x="146.95" y="254.30" width="10.96" height="10.96" fill="#ff6c4f"/>
<rect x="157.86" y="254.30" width="10.96" height="10.96" fill="#d0b5b0"/>
<rect x="168.77" y="254.30" width="10.96" height="10.96" fill="#ff8168"/>
<rect x="179.68" y="254.30" width="10.96" height="10.96" fill="#f2a091"/>
<rect x="190.59" y="254.30" width="10.96" height="10.96" fill="#ff8168"/>
<rect x="201.50" y="254.30" width="10.96" height="10.96" fill="#ff6c4f"/>
<rect x="212.41" y="254.30" width="10.96" height="10.96" fill="#ff8168"/>
<rect x="223.32" y="254.30" width="10.96" height="10.96" fill="#ff8168"/>
<rect x="234.23" y="254.30" width="10.96" height="10.96" fill="#f2a091"/>
<rect x="245.14" y="254.30" width="10.96" height="10.96" fill="#ff8168"/>
<rect x="256.05" y="254.30" width="10.96" height="10.96" fill="#ff8168"/>
<rect x="266.96" y="254.30" width="10.96" height="10.96" fill="#ff8168"/>
<rect x="277.87" y="254.30" width="10.96" height="10.96" fill="#f2a091"/>
<rect x="288.78" y="254.30" width="10.96" height="10.96" fill="#ff6c4f"/>
<rect x="299.69" y="254.30" width="10.96" height="10.96" fill="#e6a79a"/>
<rect x="310.60" y="254.30" width="10.96" height="10.96" fill="#baaad6"/>
<rect x="321.51" y="254.30" width="10.96" height="10.96" fill="#ff0000"/>
<rect x="92.40" y="265.21" width="10.96" height="10.96" fill="#ff937c"/>
<rect x="103.31" y="265.21" width="10.96" height="10.96" fill="#e6a79a"/>
<rect x="114.22" y="265.21" width="10.96" height="10.96" fill="#d0b5b0"/>
<rect x="125.13" y="265.21" width="10.96" height="10.96" fill="#ff937c"/>
<rect x="136.04" y="265.21" width="10.96" height="10.96" fill="#f2a091"/>
<rect x="146.95" y="265.21" width="10.96" height="10.96" fill="#ff937c"/>
<rect x="157.86" y="265.21" width="10.96" height="10.96" fill="#e6a79a"/>
<rect x="168.77" y="265.21" width="10.96" height="10.96" fill="#f2a091"/>
<rect x="179.68" y="265.21" width="10.96" height="10.96" fill="#ff6c4f"/>
<rect x="190.59" y="265.21" width="10.96" height="10.96" fill="#ff5331"/>
<rect x="201.50" y="265.21" width="10.96" height="10.96" fill="#ff937c"/>
<rect x="212.41" y="265.21" width="10.96" height="10.96" fill="#ff6c4f"/>
<rect x="223.32" y="265.21" width="10.96" height="10.96" fill="#d0b5b0"/>
<rect x="234.23" y="265.21" width="10.96" height="10.96" fill="#ff8168"/>
<rect x="245.14" y="265.21" width="10.96" height="10.96" fill="#e6a79a"/>
<rect x="256.05" y="265.21" width="10.96" height="10.96" fill="#ff937c"/>
<rect x="266.96" y="265.21" width="10.96" height="10.96" fill="#d0b5b0"/>
<rect x="277.87" y="265.21" width="10.96" height="10.96" fill="#c4b4c5"/>
<rect x="288.78" y="265.21" width="10.96" height="10.96" fill="#baaad6"/>
<rect x="299.69" y="265.21" width="10.96" height="10.96" fill="#f2a091"/>
<rect x="310.60" y="265.21" width="10.96" height="10.96" fill="#ff0000"/>
<rect x="321.51" y="265.21" width="10.96" height="10.96" fill="#baaad6"/>
<rect x="92.40" y="276.12" width="10.96" height="10.96" fill="#ff937c"/>
<rect x="103.31" y="276.12" width="10.96" height="10.96" fill="#e6a79a"/>
<rect x="114.22" y="276.12" width="10.96" height="10.96" fill="#e6a79a"/>
<rect x="125.13" y="276.12" width="10.96" height="10.96" fill="#ff6c4f"/>
<rect x="136.04" y="276.12" width="10.96" height="10.96" fill="#ff6c4f"/>
<rect x="146.95" y="276.12" width="10.96" height="10.96" fill="#ff6c4f"/>
<rect x="157.86" y="276.12" width="10.96" height="10.96" fill="#baaad6"/>
<rect x="168.77" y="276.12" width="10.96" height="10.96" fill="#ff5331"/>
<rect x="179.68" y="276.12" width="10.96" height="10.96" fill="#ff6c4f"/>
<rect x="190.59" y="276.12" width="10.96" height="10.96" fill="#ff6c4f"/>
<rect x="201.50" y="276.12" width="10.96" height="10.96" fill="#ff6c4f"/>
<rect x="212.41" y="276.12" width="10.96" height="10.96" fill="#ff6c4f"/>
<rect x="223.32" y="276.12" width="10.96" height="10.96" fill="#ff6c4f"/>
<rect x="234.23" y="276.12" width="10.96" height="10.96" fill="#ff6c4f"/>
<rect x="245.14" y="276.12" width="10.96" height="10.96" fill="#ff6c4f"/>
<rect x="256.05" y="276.12" width="10.96" height="10.96" fill="#ff6c4f"/>
<rect x="266.96" y="276.12" width="10.96" height="10.96" fill="#ff6c4f"/>
<rect x="277.87" y="276.12" width="10.96" height="10.96" fill="#d0b5b0"/>
<rect x="288.78" y="276.12" width="10.96" height="10.96" fill="#ff6c4f"/>
<rect x="299.69" y="276.12" width="10.96" height="10.96" fill="#ff0000"/>
<rect x="310.60" y="276.12" width="10.96" height="10.96" fill="#f2a091"/>
<rect x="321.51" y="276.12" width="10.96" height="10.96" fill="#e6a79a"/>
<rect x="92.40" y="287.03" width="10.96" height="10.96" fill="#ff937c"/>
<rect x="103.31" y="287.03" width="10.96" height="10.96" fill="#e6a79a"/>
<rect x="114.22" y="287.03" width="10.96" height="10.96" fill="#e6a79a"/>
<rect x="125.13" y="287.03" width="10.96" height="10.96" fill="#ff6c4f"/>
<rect x="136.04" y="287.03" width="10.96" height="10.96" fill="#ff6c4f"/>
<rect x="146.95" y="287.03" width="10.96" height="10.96" fill="#ff5331"/>
<rect x="157.86" y="287.03" width="10.96" height="10.96" fill="#c4b4c5"/>
<rect x="168.77" y="287.03" width="10.96" height="10.96" fill="#ff3c1c"/>
<rect x="179.68" y="287.03" width="10.96" height="10.96" fill="#ff8168"/>
<rect x="190.59" y="287.03" width="10.96" height="10.96" fill="#ff8168"/>
<rect x="201.50" y="287.03" width="10.96" height="10.96" fill="#ff6c4f"/>
<rect x="212.41" y="287.03" width="10.96" height="10.96" fill="#ff6c4f"/>
<rect x="223.32" y="287.03" width="10.96" height="10.96" fill="#ff3c1c"/>
<rect x="234.23" y="287.03" width="10.96" height="10.96" fill="#ff8168"/>
<rect x="245.14" y="287.03" width="10.96" height="10.96" fill="#ff6c4f"/>
<rect x="256.05" y="287.03" width="10.96" height="10.96" fill="#ff6c4f"/>
<rect x="266.96" y="287.03" width="10.96" height="10.96" fill="#ff6c4f"/>
<rect x="277.87" y="287.03" width="10.96" height="10.96" fill="#e6a79a"/>
<rect x="288.78" y="287.03" width="10.96" height="10.96" fill="#ff0000"/>
<rect x="299.69" y="287.03" width="10.96" height="10.96" fill="#ff6c4f"/>
<rect x="310.60" y="287.03" width="10.96" height="10.96" fill="#baaad6"/>
<rect x="321.51" y="287.03" width="10.96" height="10.96" fill="#ff8168"/>
<rect x="92.40" y="297.94" width="10.96" height="10.96" fill="#ff8168"/>
<rect x="103.31" y="297.94" width="10.96" height="10.96" fill="#ff8168"/>
<rect x="114.22" y="297.94" width="10.96" height="10.96" fill="#ff8168"/>
<rect x="125.13" y="297.94" width="10.96" height="10.96" fill="#d0b5b0"/>
<rect x="136.04" y="297.94" width="10.96" height="10.96" fill="#d0b5b0"/>
<rect x="146.95" y="297.94" width="10.96" height="10.96" fill="#d0b5b0"/>
<rect x="157.86" y="297.94" width="10.96" height="10.96" fill="#ff8168"/>
<rect x="168.77" y="297.94" width="10.96" height="10.96" fill="#e6a79a"/>
<rect x="179.68" y="297.94" width="10.96" height="10.96" fill="#d0b5b0"/>
<rect x="190.59" y="297.94" width="10.96" height="10.96" fill="#c4b4c5"/>
<rect x="201.50" y="297.94" width="10.96" height="10.96" fill="#d0b5b0"/>
<rect x="212.41" y="297.94" width="10.96" height="10.96" fill="#c4b4c5"/>
<rect x="223.32" y="297.94" width="10.96" height="10.96" fill="#ff8168"/>
<rect x="234.23" y="297.94" width="10.96" height="10.96" fill="#e6a79a"/>
<rect x="245.14" y="297.94" width="10.96" height="10.96" fill="#e6a79a"/>
<rect x="256.05" y="297.94" width="10.96" height="10.96" fill="#e6a79a"/>
<rect x="266.96" y="297.94" width="10.96" height="10.96" fill="#e6a79a"/>
<rect x="277.87" y="297.94" width="10.96" height="10.96" fill="#ff0000"/>
<rect x="288.78" y="297.94" width="10.96" height="10.96" fill="#f2a091"/>
<rect x="299.69" y="297.94" width="10.96" height="10.96" fill="#d0b5b0"/>
<rect x="310.60" y="297.94" width="10.96" height="10.96" fill="#c4b4c5"/>
<rect x="321.51" y="297.94" width="10.96" height="10.96" fill="#f2a091"/>
<rect x="92.40" y="308.85" width="10.96" height="10.96" fill="#ff937c"/>
<rect x="103.31" y="308.85" width="10.96" height="10.96" fill="#f2a091"/>
<rect x="114.22" y="308.85" width="10.96" height="10.96" fill="#e6a79a"/>
<rect x="125.13" y="308.85" width="10.96" height="10.96" fill="#ff6c4f"/>
<rect x="136.04" y="308.85" width="10.96" height="10.96" fill="#ff6c4f"/>
<rect x="146.95" y="308.85" width="10.96" height="10.96" fill="#ff6c4f"/>
<rect x="157.86" y="308.85" width="10.96" height="10.96" fill="#c4b4c5"/>
<rect x="168.77" y="308.85" width="10.96" height="10.96" fill="#ff5331"/>
<rect x="179.68" y="308.85" width="10.96" height="10.96" fill="#ff6c4f"/>
<rect x="190.59" y="308.85" width="10.96" height="10.96" fill="#ff6c4f"/>
<rect x="201.50" y="308.85" width="10.96" height="10.96" fill="#ff5331"/>
<rect x="212.41" y="308.85" width="10.96" height="10.96" fill="#ff6c4f"/>
<rect x="223.32" y="308.85" width="10.96" height="10.96" fill="#ff5331"/>
<rect x="234.23" y="308.85" width="10.96" height="10.96" fill="#ff6c4f"/>
<rect x="245.14" y="308.85" width="10.96" height="10.96" fill="#ff6c4f"/>
<rect x="256.05" y="308.85" width="10.96" height="10.96" fill="#ff6c4f"/>
<rect x="266.96" y="308.85" width="10.96" height="10.96" fill="#ff0000"/>
<rect x="277.87" y="308.85" width="10.96" height="10.96" fill="#e6a79a"/>
<rect x="288.78" y="308.85" width="10.96" height="10.96" fill="#ff6c4f"/>
<rect x="299.69" y="308.85" width="10.96" height="10.96" fill="#ff6c4f"/>
<rect x="310.60" y="308.85" width="10.96" height="10.96" fill="#d0b5b0"/>
<rect x="321.51" y="308.85" width="10.96" height="10.96" fill="#ff937c"/>
<rect x="92.40" y="319.76" width="10.96" height="10.96" fill="#ff8168"/>
<rect x="103.31" y="319.76" width="10.96" height="10.96" fill="#ff937c"/>
<rect x="114.22" y="319.76" width="10.96" height="10.96" fill="#e6a79a"/>
<rect x="125.13" y="319.76" width="10.96" height="10.96" fill="#ff3c1c"/>
<rect x="136.04" y="319.76" width="10.96" height="10.96" fill="#ff5331"/>
<rect x="146.95" y="319.76" width="10.96" height="10.96" fill="#ff5331"/>
<rect x="157.86" y="319.76" width="10.96" height="10.96" fill="#c4b4c5"/>
<rect x="168.77" y="319.76" width="10.96" height="10.96" fill="#ff5331"/>
<rect x="179.68" y="319.76" width="10.96" height="10.96" fill="#ff6c4f"/>
<rect x="190.59" y="319.76" width="10.96" height="10.96" fill="#ff6c4f"/>
<rect x="201.50" y="319.76" width="10.96" height="10.96" fill="#ff6c4f"/>
<rect x="212.41" y="319.76" width="10.96" height="10.96" fill="#ff6c4f"/>
<rect x="223.32" y="319.76" width="10.96" height="10.96" fill="#ff8168"/>
<rect x="234.23" y="319.76" width="10.96" height="10.96" fill="#ff6c4f"/>
<rect x="245.14" y="319.76" width="10.96" height="10.96" fill="#ff6c4f"/>
<rect x="256.05" y="319.76" width="10.96" height="10.96" fill="#ff0000"/>
<rect x="266.96" y="319.76" width="10.96" height="10.96" fill="#ff6c4f"/>
<rect x="277.87" y="319.76" width="10.96" height="10.96" fill="#e6a79a"/>
<rect x="288.78" y="319.76" width="10.96" height="10.96" fill="#ff6c4f"/>
<rect x="299.69" y="319.76" width="10.96" height="10.96" fill="#ff6c4f"/>
<rect x="310.60" y="319.76" width="10.96" height="10.96" fill="#ff937c"/>
<rect x="321.51" y="319.76" width="10.96" height="10.96" fill="#ff8168"/>
<rect x="92.40" y="330.67" width="10.96" height="10.96" fill="#ff8168"/>
<rect x="103.31" y="330.67" width="10.96" height="10.96" fill="#ff8168"/>
<rect x="114.22" y="330.67" width="10.96" height="10.96" fill="#e6a79a"/>
<rect x="125.13" y="330.67" width="10.96" height="10.96" fill="#ff6c4f"/>
<rect x="136.04" y="330.67" width="10.96" height="10.96" fill="#ff6c4f"/>
<rect x="146.95" y="330.67" width="10.96" height="10.96" fill="#ff6c4f"/>
<rect x="157.86" y="330.67" width="10.96" height="10.96" fill="#c4b4c5"/>
<rect x="168.77" y="330.67" width="10.96" height="10.96" fill="#ff6c4f"/>
<rect x="179.68" y="330.67" width="10.96" height="10.96" fill="#ff8168"/>
<rect x="190.59" y="330.67" width="10.96" height="10.96" fill="#ff8168"/>
<rect x="201.50" y="330.67" width="10.96" height="10.96" fill="#ff8168"/>
<rect x="212.41" y="330.67" width="10.96" height="10.96" fill="#ff8168"/>
<rect x="223.32" y="330.67" width="10.96" height="10.96" fill="#ff8168"/>
<rect x="234.23" y="330.67" width="10.96" height="10.96" fill="#ff6c4f"/>
<rect x="245.14" y="330.67" width="10.96" height="10.96" fill="#ff0000"/>
<rect x="256.05" y="330.67" width="10.96" height="10.96" fill="#ff6c4f"/>
<rect x="266.96" y="330.67" width="10.96" height="10.96" fill="#ff6c4f"/>
<rect x="277.87" y="330.67" width="10.96" height="10.96" fill="#e6a79a"/>
<rect x="288.78" y="330.67" width="10.96" height="10.96" fill="#ff8168"/>
<rect x="299.69" y="330.67" width="10.96" height="10.96" fill="#ff6c4f"/>
<rect x="310.60" y="330.67" width="10.96" height="10.96" fill="#e6a79a"/>
<rect x="321.51" y="330.67" width="10.96" height="10.96" fill="#ff8168"/>
<rect x="92.40" y="341.58" width="10.96" height="10.96" fill="#ff8168"/>
<rect x="103.31" y="341.58" width="10.96" height="10.96" fill="#ff937c"/>
<rect x="114.22" y="341.58" width="10.96" height="10.96" fill="#e6a79a"/>
<rect x="125.13" y="341.58" width="10.96" height="10.96" fill="#ff5331"/>
<rect x="136.04" y="341.58" width="10.96" height="10.96" fill="#ff6c4f"/>
<rect x="146.95" y="341.58" width="10.96" height="10.96" fill="#ff6c4f"/>
<rect x="157.86" y="341.58" width="10.96" height="10.96" fill="#d0b5b0"/>
<rect x="168.77" y="341.58" width="10.96" height="10.96" fill="#ff5331"/>
<rect x="179.68" y="341.58" width="10.96" height="10.96" fill="#ff5331"/>
<rect x="190.59" y="341.58" width="10.96" height="10.96" fill="#ff6c4f"/>
<rect x="201.50" y="341.58" width="10.96" height="10.96" fill="#ff6c4f"/>
<rect x="212.41" y="341.58" width="10.96" height="10.96" fill="#ff6c4f"/>
<rect x="223.32" y="341.58" width="10.96" height="10.96" fill="#ff8168"/>
<rect x="234.23" y="341.58" width="10.96" height="10.96" fill="#ff0000"/>
<rect x="245.14" y="341.58" width="10.96" height="10.96" fill="#ff6c4f"/>
<rect x="256.05" y="341.58" width="10.96" height="10.96" fill="#ff6c4f"/>
<rect x="266.96" y="341.58" width="10.96" height="10.96" fill="#ff6c4f"/>
<rect x="277.87" y="341.58" width="10.96" height="10.96" fill="#e6a79a"/>
<rect x="288.78" y="341.58" width="10.96" height="10.96" fill="#ff8168"/>
<rect x="299.69" y="341.58" width="10.96" height="10.96" fill="#ff6c4f"/>
<rect x="310.60" y="341.58" width="10.96" height="10.96" fill="#ff8168"/>
<rect x="321.51" y="341.58" width="10.96" height="10.96" fill="#f2a091"/>
<rect x="92.40" y="352.49" width="10.96" height="10.96" fill="#ff8168"/>
<rect x="103.31" y="352.49" width="10.96" height="10.96" fill="#ff937c"/>
<rect x="114.22" y="352.49" width="10.96" height="10.96" fill="#f2a091"/>
<rect x="125.13" y="352.49" width="10.96" height="10.96" fill="#ff6c4f"/>
<rect x="136.04" y="352.49" width="10.96" height="10.96" fill="#ff6c4f"/>
<rect x="146.95" y="352.49" width="10.96" height="10.96" fill="#ff6c4f"/>
<rect x="157.86" y="352.49" width="10.96" height="10.96" fill="#d0b5b0"/>
<rect x="168.77" y="352.49" width="10.96" height="10.96" fill="#ff5331"/>
<rect x="179.68" y="352.49" width="10.96" height="10.96" fill="#ff8168"/>
<rect x="190.59" y="352.49" width="10.96" height="10.96" fill="#ff8168"/>
<rect x="201.50" y="352.49" width="10.96" height="10.96" fill="#ff8168"/>
<rect x="212.41" y="352.49" width="10.96" height="10.96" fill="#ff8168"/>
<rect x="223.32" y="352.49" width="10.96" height="10.96" fill="#ff0000"/>
<rect x="234.23" y="352.49" width="10.96" height="10.96" fill="#ff8168"/>
<rect x="245.14" y="352.49" width="10.96" height="10.96" fill="#ff8168"/>
<rect x="256.05" y="352.49" width="10.96" height="10.96" fill="#ff6c4f"/>
<rect x="266.96" y="352.49" width="10.96" height="10.96" fill="#ff6c4f"/>
<rect x="277.87" y="352.49" width="10.96" height="10.96" fill="#ff8168"/>
<rect x="288.78" y="352.49" width="10.96" height="10.96" fill="#ff3c1c"/>
<rect x="299.69" y="352.49" width="10.96" height="10.96" fill="#ff8168"/>
<rect x="310.60" y="352.49" width="10.96" height="10.96" fill="#d0b5b0"/>
<rect x="321.51" y="352.49" width="10.96" height="10.96" fill="#ff937c"/>
<rect x="92.40" y="363.40" width="10.96" height="10.96" fill="#ff8168"/>
<rect x="103.31" y="363.40" width="10.96" height="10.96" fill="#ff937c"/>
<rect x="114.22" y="363.40" width="10.96" height="10.96" fill="#d0b5b0"/>
<rect x="125.13" y="363.40" width="10.96" height="10.96" fill="#ff6c4f"/>
<rect x="136.04" y="363.40" width="10.96" height="10.96" fill="#ff6c4f"/>
<rect x="146.95" y="363.40" width="10.96" height="10.96" fill="#ff3c1c"/>
<rect x="157.86" y="363.40" width="10.96" height="10.96" fill="#d0b5b0"/>
<rect x="168.77" y="363.40" width="10.96" height="10.96" fill="#ff6c4f"/>
<rect x="179.68" y="363.40" width="10.96" height="10.96" fill="#ff5331"/>
<rect x="190.59" y="363.40" width="10.96" height="10.96" fill="#ff1e0a"/>
<rect x="201.50" y="363.40" width="10.96" height="10.96" fill="#ff5331"/>
<rect x="212.41" y="363.40" width="10.96" height="10.96" fill="#ff0000"/>
<rect x="223.32" y="363.40" width="10.96" height="10.96" fill="#ff8168"/>
<rect x="234.23" y="363.40" width="10.96" height="10.96" fill="#ff6c4f"/>
<rect x="245.14" y="363.40" width="10.96" height="10.96" fill="#ff8168"/>
<rect x="256.05" y="363.40" width="10.96" height="10.96" fill="#ff6c4f"/>
<rect x="266.96" y="363.40" width="10.96" height="10.96" fill="#ff6c4f"/>
<rect x="277.87" y="363.40" width="10.96" height="10.96" fill="#c4b4c5"/>
<rect x="288.78" y="363.40" width="10.96" height="10.96" fill="#ff6c4f"/>
<rect x="299.69" y="363.40" width="10.96" height="10.96" fill="#ff6c4f"/>
<rect x="310.60" y="363.40" width="10.96" height="10.96" fill="#ff6c4f"/>
<rect x="321.51" y="363.40" width="10.96" height="10.96" fill="#ff8168"/>
<rect x="92.40" y="374.31" width="10.96" height="10.96" fill="#ff8168"/>
<rect x="103.31" y="374.31" width="10.96" height="10.96" fill="#ff937c"/>
<rect x="114.22" y="374.31" width="10.96" height="10.96" fill="#e6a79a"/>
<rect x="125.13" y="374.31" width="10.96" height="10.96" fill="#ff5331"/>
<rect x="136.04" y="374.31" width="10.96" height="10.96" fill="#ff6c4f"/>
<rect x="146.95" y="374.31" width="10.96" height="10.96" fill="#ff3c1c"/>
<rect x="157.86" y="374.31" width="10.96" height="10.96" fill="#d0b5b0"/>
<rect x="168.77" y="374.31" width="10.96" height="10.96" fill="#ff5331"/>
<rect x="179.68" y="374.31" width="10.96" height="10.96" fill="#ff6c4f"/>
<rect x="190.59" y="374.31" width="10.96" height="10.96" fill="#ff5331"/>
<rect x="201.50" y="374.31" width="10.96" height="10.96" fill="#ff0000"/>
<rect x="212.41" y="374.31" width="10.96" height="10.96" fill="#ff5331"/>
<rect x="223.32" y="374.31" width="10.96" height="10.96" fill="#ff8168"/>
<rect x="234.23" y="374.31" width="10.96" height="10.96" fill="#ff6c4f"/>
<rect x="245.14" y="374.31" width="10.96" height="10.96" fill="#ff8168"/>
<rect x="256.05" y="374.31" width="10.96" height="10.96" fill="#ff6c4f"/>
<rect x="266.96" y="374.31" width="10.96" height="10.96" fill="#ff5331"/>
<rect x="277.87" y="374.31" width="10.96" height="10.96" fill="#d0b5b0"/>
<rect x="288.78" y="374.31" width="10.96" height="10.96" fill="#ff6c4f"/>
<rect x="299.69" y="374.31" width="10.96" height="10.96" fill="#ff6c4f"/>
<rect x="310.60" y="374.31" width="10.96" height="10.96" fill="#ff937c"/>
<rect x="321.51" y="374.31" width="10.96" height="10.96" fill="#ff8168"/>
<rect x="92.40" y="385.22" width="10.96" height="10.96" fill="#ff8168"/>
<rect x="103.31" y="385.22" width="10.96" height="10.96" fill="#ff937c"/>
<rect x="114.22" y="385.22" width="10.96" height="10.96" fill="#d0b5b0"/>
<rect x="125.13" y="385.22" width="10.96" height="10.96" fill="#ff6c4f"/>
<rect x="136.04" y="385.22" width="10.96" height="10.96" fill="#ff6c4f"/>
<rect x="146.95" y="385.22" width="10.96" height="10.96" fill="#ff3c1c"/>
<rect x="157.86" y="385.22" width="10.96" height="10.96" fill="#d0b5b0"/>
<rect x="168.77" y="385.22" width="10.96" height="10.96" fill="#ff6c4f"/>
<rect x="179.68" y="385.22" width="10.96" height="10.96" fill="#ff3c1c"/>
<rect x="190.59" y="385.22" width="10.96" height="10.96" fill="#ff0000"/>
<rect x="201.50" y="385.22" width="10.96" height="10.96" fill="#ff5331"/>
<rect x="212.41" y="385.22" width="10.96" height="10.96" fill="#ff1e0a"/>
<rect x="223.32" y="385.22" width="10.96" height="10.96" fill="#ff8168"/>
<rect x="234.23" y="385.22" width="10.96" height="10.96" fill="#ff6c4f"/>
<rect x="245.14" y="385.22" width="10.96" height="10.96" fill="#ff8168"/>
<rect x="256.05" y="385.22" width="10.96" height="10.96" fill="#ff6c4f"/>
<rect x="266.96" y="385.22" width="10.96" height="10.96" fill="#ff6c4f"/>
<rect x="277.87" y="385.22" width="10.96" height="10.96" fill="#c4b4c5"/>
<rect x="288.78" y="385.22" width="10.96" height="10.96" fill="#ff8168"/>
<rect x="299.69" y="385.22" width="10.96" height="10.96" fill="#ff6c4f"/>
<rect x="310.60" y="385.22" width="10.96" height="10.96" fill="#ff5331"/>
<rect x="321.51" y="385.22" width="10.96" height="10.96" fill="#ff937c"/>
<rect x="92.40" y="396.13" width="10.96" height="10.96" fill="#ff8168"/>
<rect x="103.31" y="396.13" width="10.96" height="10.96" fill="#ff937c"/>
<rect x="114.22" y="396.13" width="10.96" height="10.96" fill="#e6a79a"/>
<rect x="125.13" y="396.13" width="10.96" height="10.96" fill="#ff6c4f"/>
<rect x="136.04" y="396.13" width="10.96" height="10.96" fill="#ff6c4f"/>
<rect x="146.95" y="396.13" width="10.96" height="10.96" fill="#ff5331"/>
<rect x="157.86" y="396.13" width="10.96" height="10.96" fill="#d0b5b0"/>
<rect x="168.77" y="396.13" width="10.96" height="10.96" fill="#ff5331"/>
<rect x="179.68" y="396.13" width="10.96" height="10.96" fill="#ff0000"/>
<rect x="190.59" y="396.13" width="10.96" height="10.96" fill="#ff3c1c"/>
<rect x="201.50" y="396.13" width="10.96" height="10.96" fill="#ff6c4f"/>
<rect x="212.41" y="396.13" width="10.96" height="10.96" fill="#ff5331"/>
<rect x="223.32" y="396.13" width="10.96" height="10.96" fill="#ff8168"/>
<rect x="234.23" y="396.13" width="10.96" height="10.96" fill="#ff5331"/>
<rect x="245.14" y="396.13" width="10.96" height="10.96" fill="#ff8168"/>
<rect x="256.05" y="396.13" width="10.96" height="10.96" fill="#ff6c4f"/>
<rect x="266.96" y="396.13" width="10.96" height="10.96" fill="#ff6c4f"/>
<rect x="277.87" y="396.13" width="10.96" height="10.96" fill="#d0b5b0"/>
<rect x="288.78" y="396.13" width="10.96" height="10.96" fill="#ff8168"/>
<rect x="299.69" y="396.13" width="10.96" height="10.96" fill="#ff6c4f"/>
<rect x="310.60" y="396.13" width="10.96" height="10.96" fill="#ff6c4f"/>
<rect x="321.51" y="396.13" width="10.96" height="10.96" fill="#f2a091"/>
<rect x="92.40" y="407.04" width="10.96" height="10.96" fill="#ff8168"/>
<rect x="103.31" y="407.04" width="10.96" height="10.96" fill="#ff937c"/>
<rect x="114.22" y="407.04" width="10.96" height="10.96" fill="#e6a79a"/>
<rect x="125.13" y="407.04" width="10.96" height="10.96" fill="#ff6c4f"/>
<rect x="136.04" y="407.04" width="10.96" height="10.96" fill="#ff6c4f"/>
<rect x="146.95" y="407.04" width="10.96" height="10.96" fill="#ff5331"/>
<rect x="157.86" y="407.04" width="10.96" height="10.96" fill="#d0b5b0"/>
<rect x="168.77" y="407.04" width="10.96" height="10.96" fill="#ff0000"/>
<rect x="179.68" y="407.04" width="10.96" height="10.96" fill="#ff5331"/>
<rect x="190.59" y="407.04" width="10.96" height="10.96" fill="#ff6c4f"/>
<rect x="201.50" y="407.04" width="10.96" height="10.96" fill="#ff5331"/>
<rect x="212.41" y="407.04" width="10.96" height="10.96" fill="#ff6c4f"/>
<rect x="223.32" y="407.04" width="10.96" height="10.96" fill="#ff5331"/>
<rect x="234.23" y="407.04" width="10.96" height="10.96" fill="#ff5331"/>
<rect x="245.14" y="407.04" width="10.96" height="10.96" fill="#ff6c4f"/>
<rect x="256.05" y="407.04" width="10.96" height="10.96" fill="#ff6c4f"/>
<rect x="266.96" y="407.04" width="10.96" height="10.96" fill="#ff6c4f"/>
<rect x="277.87" y="407.04" width="10.96" height="10.96" fill="#e6a79a"/>
<rect x="288.78" y="407.04" width="10.96" height="10.96" fill="#ff3c1c"/>
<rect x="299.69" y="407.04" width="10.96" height="10.96" fill="#ff5331"/>
<rect x="310.60" y="407.04" width="10.96" height="10.96" fill="#f2a091"/>
<rect x="321.51" y="407.04" width="10.96" height="10.96" fill="#ff8168"/>
<rect x="92.40" y="417.95" width="10.96" height="10.96" fill="#ff6c4f"/>
<rect x="103.31" y="417.95" width="10.96" height="10.96" fill="#ff6c4f"/>
<rect x="114.22" y="417.95" width="10.96" height="10.96" fill="#ff8168"/>
<rect x="125.13" y="417.95" width="10.96" height="10.96" fill="#e6a79a"/>
<rect x="136.04" y="417.95" width="10.96" height="10.96" fill="#e6a79a"/>
<rect x="146.95" y="417.95" width="10.96" height="10.96" fill="#e6a79a"/>
<rect x="157.86" y="417.95" width="10.96" height="10.96" fill="#ff0000"/>
<rect x="168.77" y="417.95" width="10.96" height="10.96" fill="#d0b5b0"/>
<rect x="179.68" y="417.95" width="10.96" height="10.96" fill="#d0b5b0"/>
<rect x="190.59" y="417.95" width="10.96" height="10.96" fill="#d0b5b0"/>
<rect x="201.50" y="417.95" width="10.96" height="10.96" fill="#d0b5b0"/>
<rect x="212.41" y="417.95" width="10.96" height="10.96" fill="#c4b4c5"/>
<rect x="223.32" y="417.95" width="10.96" height="10.96" fill="#e6a79a"/>
<rect x="234.23" y="417.95" width="10.96" height="10.96" fill="#e6a79a"/>
<rect x="245.14" y="417.95" width="10.96" height="10.96" fill="#e6a79a"/>
<rect x="256.05" y="417.95" width="10.96" height="10.96" fill="#c4b4c5"/>
<rect x="266.96" y="417.95" width="10.96" height="10.96" fill="#c4b4c5"/>
<rect x="277.87" y="417.95" width="10.96" height="10.96" fill="#ff8168"/>
<rect x="288.78" y="417.95" width="10.96" height="10.96" fill="#c4b4c5"/>
<rect x="299.69" y="417.95" width="10.96" height="10.96" fill="#baaad6"/>
<rect x="310.60" y="417.95" width="10.96" height="10.96" fill="#e6a79a"/>
<rect x="321.51" y="417.95" width="10.96" height="10.96" fill="#e6a79a"/>
<rect x="92.40" y="428.86" width="10.96" height="10.96" fill="#ff6c4f"/>
<rect x="103.31" y="428.86" width="10.96" height="10.96" fill="#ff8168"/>
<rect x="114.22" y="428.86" width="10.96" height="10.96" fill="#f2a091"/>
<rect x="125.13" y="428.86" width="10.96" height="10.96" fill="#ff5331"/>
<rect x="136.04" y="428.86" width="10.96" height="10.96" fill="#ff5331"/>
<rect x="146.95" y="428.86" width="10.96" height="10.96" fill="#ff0000"/>
<rect x="157.86" y="428.86" width="10.96" height="10.96" fill="#e6a79a"/>
<rect x="168.77" y="428.86" width="10.96" height="10.96" fill="#ff5331"/>
<rect x="179.68" y="428.86" width="10.96" height="10.96" fill="#ff5331"/>
<rect x="190.59" y="428.86" width="10.96" height="10.96" fill="#ff3c1c"/>
<rect x="201.50" y="428.86" width="10.96" height="10.96" fill="#ff3c1c"/>
<rect x="212.41" y="428.86" width="10.96" height="10.96" fill="#ff3c1c"/>
<rect x="223.32" y="428.86" width="10.96" height="10.96" fill="#ff6c4f"/>
<rect x="234.23" y="428.86" width="10.96" height="10.96" fill="#ff6c4f"/>
<rect x="245.14" y="428.86" width="10.96" height="10.96" fill="#ff6c4f"/>
<rect x="256.05" y="428.86" width="10.96" height="10.96" fill="#ff5331"/>
<rect x="266.96" y="428.86" width="10.96" height="10.96" fill="#ff6c4f"/>
<rect x="277.87" y="428.86" width="10.96" height="10.96" fill="#e6a79a"/>
<rect x="288.78" y="428.86" width="10.96" height="10.96" fill="#ff5331"/>
<rect x="299.69" y="428.86" width="10.96" height="10.96" fill="#ff8168"/>
<rect x="310.60" y="428.86" width="10.96" height="10.96" fill="#ff937c"/>
<rect x="321.51" y="428.86" width="10.96" height="10.96" fill="#ff6c4f"/>
<rect x="92.40" y="439.77" width="10.96" height="10.96" fill="#ff6c4f"/>
<rect x="103.31" y="439.77" width="10.96" height="10.96" fill="#ff8168"/>
<rect x="114.22" y="439.77" width="10.96" height="10.96" fill="#ff937c"/>
<rect x="125.13" y="439.77" width="10.96" height="10.96" fill="#ff5331"/>
<rect x="136.04" y="439.77" width="10.96" height="10.96" fill="#ff0000"/>
<rect x="146.95" y="439.77" width="10.96" height="10.96" fill="#ff5331"/>
<rect x="157.86" y="439.77" width="10.96" height="10.96" fill="#e6a79a"/>
<rect x="168.77" y="439.77" width="10.96" height="10.96" fill="#ff6c4f"/>
<rect x="179.68" y="439.77" width="10.96" height="10.96" fill="#ff6c4f"/>
<rect x="190.59" y="439.77" width="10.96" height="10.96" fill="#ff6c4f"/>
<rect x="201.50" y="439.77" width="10.96" height="10.96" fill="#ff6c4f"/>
<rect x="212.41" y="439.77" width="10.96" height="10.96" fill="#ff6c4f"/>
<rect x="223.32" y="439.77" width="10.96" height="10.96" fill="#ff8168"/>
<rect x="234.23" y="439.77" width="10.96" height="10.96" fill="#ff6c4f"/>
<rect x="245.14" y="439.77" width="10.96" height="10.96" fill="#ff6c4f"/>
<rect x="256.05" y="439.77" width="10.96" height="10.96" fill="#ff5331"/>
<rect x="266.96" y="439.77" width="10.96" height="10.96" fill="#ff6c4f"/>
<rect x="277.87" y="439.77" width="10.96" height="10.96" fill="#e6a79a"/>
<rect x="288.78" y="439.77" width="10.96" height="10.96" fill="#ff8168"/>
<rect x="299.69" y="439.77" width="10.96" height="10.96" fill="#ff8168"/>
<rect x="310.60" y="439.77" width="10.96" height="10.96" fill="#f2a091"/>
<rect x="321.51" y="439.77" width="10.96" height="10.96" fill="#f2a091"/>
<rect x="92.40" y="450.68" width="10.96" height="10.96" fill="#ff6c4f"/>
<rect x="103.31" y="450.68" width="10.96" height="10.96" fill="#ff8168"/>
<rect x="114.22" y="450.68" width="10.96" height="10.96" fill="#ff937c"/>
<rect x="125.13" y="450.68" width="10.96" height="10.96" fill="#ff0000"/>
<rect x="136.04" y="450.68" width="10.96" height="10.96" fill="#ff5331"/>
<rect x="146.95" y="450.68" width="10.96" height="10.96" fill="#ff5331"/>
<rect x="157.86" y="450.68" width="10.96" height="10.96" fill="#e6a79a"/>
<rect x="168.77" y="450.68" width="10.96" height="10.96" fill="#ff6c4f"/>
<rect x="179.68" y="450.68" width="10.96" height="10.96" fill="#ff6c4f"/>
<rect x="190.59" y="450.68" width="10.96" height="10.96" fill="#ff6c4f"/>
<rect x="201.50" y="450.68" width="10.96" height="10.96" fill="#ff5331"/>
<rect x="212.41" y="450.68" width="10.96" height="10.96" fill="#ff6c4f"/>
<rect x="223.32" y="450.68" width="10.96" height="10.96" fill="#ff6c4f"/>
<rect x="234.23" y="450.68" width="10.96" height="10.96" fill="#ff5331"/>
<rect x="245.14" y="450.68" width="10.96" height="10.96" fill="#ff6c4f"/>
<rect x="256.05" y="450.68" width="10.96" height="10.96" fill="#ff3c1c"/>
<rect x="266.96" y="450.68" width="10.96" height="10.96" fill="#ff6c4f"/>
<rect x="277.87" y="450.68" width="10.96" height="10.96" fill="#e6a79a"/>
<rect x="288.78" y="450.68" width="10.96" height="10.96" fill="#ff8168"/>
<rect x="299.69" y="450.68" width="10.96" height="10.96" fill="#ff8168"/>
<rect x="310.60" y="450.68" width="10.96" height="10.96" fill="#ff937c"/>
<rect x="321.51" y="450.68" width="10.96" height="10.96" fill="#ff937c"/>
<rect x="92.40" y="461.59" width="10.96" height="10.96" fill="#ff5331"/>
<rect x="103.31" y="461.59" width="10.96" height="10.96" fill="#ff3c1c"/>
<rect x="114.22" y="461.59" width="10.96" height="10.96" fill="#ff0000"/>
<rect x="125.13" y="461.59" width="10.96" height="10.96" fill="#ff937c"/>
<rect x="136.04" y="461.59" width="10.96" height="10.96" fill="#ff937c"/>
<rect x="146.95" y="461.59" width="10.96" height="10.96" fill="#f2a091"/>
<rect x="157.86" y="461.59" width="10.96" height="10.96" fill="#ff8168"/>
<rect x="168.77" y="461.59" width="10.96" height="10.96" fill="#e6a79a"/>
<rect x="179.68" y="461.59" width="10.96" height="10.96" fill="#e6a79a"/>
<rect x="190.59" y="461.59" width="10.96" height="10.96" fill="#e6a79a"/>
<rect x="201.50" y="461.59" width="10.96" height="10.96" fill="#d0b5b0"/>
<rect x="212.41" y="461.59" width="10.96" height="10.96" fill="#c4b4c5"/>
<rect x="223.32" y="461.59" width="10.96" height="10.96" fill="#e6a79a"/>
<rect x="234.23" y="461.59" width="10.96" height="10.96" fill="#e6a79a"/>
<rect x="245.14" y="461.59" width="10.96" height="10.96" fill="#e6a79a"/>
<rect x="256.05" y="461.59" width="10.96" height="10.96" fill="#e6a79a"/>
<rect x="266.96" y="461.59" width="10.96" height="10.96" fill="#e6a79a"/>
<rect x="277.87" y="461.59" width="10.96" height="10.96" fill="#ff8168"/>
<rect x="288.78" y="461.59" width="10.96" height="10.96" fill="#f2a091"/>
<rect x="299.69" y="461.59" width="10.96" height="10.96" fill="#e6a79a"/>
<rect x="310.60" y="461.59" width="10.96" height="10.96" fill="#d0b5b0"/>
<rect x="321.51" y="461.59" width="10.96" height="10.96" fill="#d0b5b0"/>
<rect x="92.40" y="472.50" width="10.96" height="10.96" fill="#ff1e0a"/>
<rect x="103.31" y="472.50" width="10.96" height="10.96" fill="#ff0000"/>
<rect x="114.22" y="472.50" width="10.96" height="10.96" fill="#ff3c1c"/>
<rect x="125.13" y="472.50" width="10.96" height="10.96" fill="#ff8168"/>
<rect x="136.04" y="472.50" width="10.96" height="10.96" fill="#ff8168"/>
<rect x="146.95" y="472.50" width="10.96" height="10.96" fill="#ff8168"/>
<rect x="157.86" y="472.50" width="10.96" height="10.96" fill="#ff6c4f"/>
<rect x="168.77" y="472.50" width="10.96" height="10.96" fill="#ff937c"/>
<rect x="179.68" y="472.50" width="10.96" height="10.96" fill="#ff937c"/>
<rect x="190.59" y="472.50" width="10.96" height="10.96" fill="#ff937c"/>
<rect x="201.50" y="472.50" width="10.96" height="10.96" fill="#ff937c"/>
<rect x="212.41" y="472.50" width="10.96" height="10.96" fill="#ff937c"/>
<rect x="223.32" y="472.50" width="10.96" height="10.96" fill="#ff937c"/>
<rect x="234.23" y="472.50" width="10.96" height="10.96" fill="#ff937c"/>
<rect x="245.14" y="472.50" width="10.96" height="10.96" fill="#ff937c"/>
<rect x="256.05" y="472.50" width="10.96" height="10.96" fill="#ff937c"/>
<rect x="266.96" y="472.50" width="10.96" height="10.96" fill="#f2a091"/>
<rect x="277.87" y="472.50" width="10.96" height="10.96" fill="#ff8168"/>
<rect x="288.78" y="472.50" width="10.96" height="10.96" fill="#f2a091"/>
<rect x="299.69" y="472.50" width="10.96" height="10.96" fill="#f2a091"/>
<rect x="310.60" y="472.50" width="10.96" height="10.96" fill="#e6a79a"/>
<rect x="321.51" y="472.50" width="10.96" height="10.96" fill="#e6a79a"/>
<rect x="92.40" y="483.41" width="10.96" height="10.96" fill="#ff0000"/>
<rect x="103.31" y="483.41" width="10.96" height="10.96" fill="#ff1e0a"/>
<rect x="114.22" y="483.41" width="10.96" height="10.96" fill="#ff5331"/>
<rect x="125.13" y="483.41" width="10.96" height="10.96" fill="#ff6c4f"/>
<rect x="136.04" y="483.41" width="10.96" height="10.96" fill="#ff6c4f"/>
<rect x="146.95" y="483.41" width="10.96" height="10.96" fill="#ff6c4f"/>
<rect x="157.86" y="483.41" width="10.96" height="10.96" fill="#ff6c4f"/>
<rect x="168.77" y="483.41" width="10.96" height="10.96" fill="#ff8168"/>
<rect x="179.68" y="483.41" width="10.96" height="10.96" fill="#ff8168"/>
<rect x="190.59" y="483.41" width="10.96" height="10.96" fill="#ff8168"/>
<rect x="201.50" y="483.41" width="10.96" height="10.96" fill="#ff8168"/>
<rect x="212.41" y="483.41" width="10.96" height="10.96" fill="#ff8168"/>
<rect x="223.32" y="483.41" width="10.96" height="10.96" fill="#ff8168"/>
<rect x="234.23" y="483.41" width="10.96" height="10.96" fill="#ff8168"/>
<rect x="245.14" y="483.41" width="10.96" height="10.96" fill="#ff937c"/>
<rect x="256.05" y="483.41" width="10.96" height="10.96" fill="#ff937c"/>
<rect x="266.96" y="483.41" width="10.96" height="10.96" fill="#ff937c"/>
<rect x="277.87" y="483.41" width="10.96" height="10.96" fill="#ff937c"/>
<rect x="288.78" y="483.41" width="10.96" height="10.96" fill="#ff937c"/>
<rect x="299.69" y="483.41" width="10.96" height="10.96" fill="#ff937c"/>
<rect x="310.60" y="483.41" width="10.96" height="10.96" fill="#ff937c"/>
<rect x="321.51" y="483.41" width="10.96" height="10.96" fill="#ff937c"/>
</g>
<path d="M103.31 254.30V494.32M92.40 265.21H332.42M114.22 254.30V494.32M92.40 276.12H332.42M125.13 254.30V494.32M92.40 287.03H332.42M136.04 254.30V494.32M92.40 297.94H332.42M146.95 254.30V494.32M92.40 308.85H332.42M157.86 254.30V494.32M92.40 319.76H332.42M168.77 254.30V494.32M92.40 330.67H332.42M179.68 254.30V494.32M92.40 341.58H332.42M190.59 254.30V494.32M92.40 352.49H332.42M201.50 254.30V494.32M92.40 363.40H332.42M212.41 254.30V494.32M92.40 374.31H332.42M223.32 254.30V494.32M92.40 385.22H332.42M234.23 254.30V494.32M92.40 396.13H332.42M245.14 254.30V494.32M92.40 407.04H332.42M256.05 254.30V494.32M92.40 417.95H332.42M266.96 254.30V494.32M92.40 428.86H332.42M277.87 254.30V494.32M92.40 439.77H332.42M288.78 254.30V494.32M92.40 450.68H332.42M299.69 254.30V494.32M92.40 461.59H332.42M310.60 254.30V494.32M92.40 472.50H332.42M321.51 254.30V494.32M92.40 483.41H332.42" stroke="#ffffff" stroke-opacity="0.10" stroke-width="0.6" fill="none"/>
<path d="M106.17 257.15L111.37 262.36M106.17 262.36L111.37 257.15M117.08 257.15L122.28 262.36M117.08 262.36L122.28 257.15M138.90 257.15L144.09 262.36M138.90 262.36L144.09 257.15M160.72 257.15L165.91 262.36M160.72 262.36L165.91 257.15M182.53 257.15L187.73 262.36M182.53 262.36L187.73 257.15M237.09 257.15L242.28 262.36M237.09 262.36L242.28 257.15M280.73 257.15L285.93 262.36M280.73 262.36L285.93 257.15M302.54 257.15L307.75 262.36M302.54 262.36L307.75 257.15M313.45 257.15L318.66 262.36M313.45 262.36L318.66 257.15M106.17 268.06L111.37 273.27M106.17 273.27L111.37 268.06M117.08 268.06L122.28 273.27M117.08 273.27L122.28 268.06M138.90 268.06L144.09 273.27M138.90 273.27L144.09 268.06M160.72 268.06L165.91 273.27M160.72 273.27L165.91 268.06M171.63 268.06L176.83 273.27M171.63 273.27L176.83 268.06M226.18 268.06L231.38 273.27M226.18 273.27L231.38 268.06M248.00 268.06L253.19 273.27M248.00 273.27L253.19 268.06M269.81 268.06L275.02 273.27M269.81 273.27L275.02 268.06M280.73 268.06L285.93 273.27M280.73 273.27L285.93 268.06M291.63 268.06L296.84 273.27M291.63 273.27L296.84 268.06M302.54 268.06L307.75 273.27M302.54 273.27L307.75 268.06M324.37 268.06L329.57 273.27M324.37 273.27L329.57 268.06M106.17 278.97L111.37 284.18M106.17 284.18L111.37 278.97M117.08 278.97L122.28 284.18M117.08 284.18L122.28 278.97M160.72 278.97L165.91 284.18M160.72 284.18L165.91 278.97M280.73 278.97L285.93 284.18M280.73 284.18L285.93 278.97M313.45 278.97L318.66 284.18M313.45 284.18L318.66 278.97M324.37 278.97L329.57 284.18M324.37 284.18L329.57 278.97M106.17 289.88L111.37 295.09M106.17 295.09L111.37 289.88M117.08 289.88L122.28 295.09M117.08 295.09L122.28 289.88M160.72 289.88L165.91 295.09M160.72 295.09L165.91 289.88M280.73 289.88L285.93 295.09M280.73 295.09L285.93 289.88M313.45 289.88L318.66 295.09M313.45 295.09L318.66 289.88M127.99 300.79L133.19 306.00M127.99 306.00L133.19 300.79M138.90 300.79L144.09 306.00M138.90 306.00L144.09 300.79M149.81 300.79L155.00 306.00M149.81 306.00L155.00 300.79M171.63 300.79L176.83 306.00M171.63 306.00L176.83 300.79M182.53 300.79L187.73 306.00M182.53 306.00L187.73 300.79M193.45 300.79L198.65 306.00M193.45 306.00L198.65 300.79M204.36 300.79L209.56 306.00M204.36 306.00L209.56 300.79M215.27 300.79L220.47 306.00M215.27 306.00L220.47 300.79M237.09 300.79L242.28 306.00M237.09 306.00L242.28 300.79M248.00 300.79L253.19 306.00M248.00 306.00L253.19 300.79M258.90 300.79L264.11 306.00M258.90 306.00L264.11 300.79M269.81 300.79L275.02 306.00M269.81 306.00L275.02 300.79M291.63 300.79L296.84 306.00M291.63 306.00L296.84 300.79M302.54 300.79L307.75 306.00M302.54 306.00L307.75 300.79M313.45 300.79L318.66 306.00M313.45 306.00L318.66 300.79M324.37 300.79L329.57 306.00M324.37 306.00L329.57 300.79M106.17 311.70L111.37 316.91M106.17 316.91L111.37 311.70M117.08 311.70L122.28 316.91M117.08 316.91L122.28 311.70M160.72 311.70L165.91 316.91M160.72 316.91L165.91 311.70M280.73 311.70L285.93 316.91M280.73 316.91L285.93 311.70M313.45 311.70L318.66 316.91M313.45 316.91L318.66 311.70M117.08 322.62L122.28 327.82M117.08 327.82L122.28 322.62M160.72 322.62L165.91 327.82M160.72 327.82L165.91 322.62M280.73 322.62L285.93 327.82M280.73 327.82L285.93 322.62M117.08 333.52L122.28 338.73M117.08 338.73L122.28 333.52M160.72 333.52L165.91 338.73M160.72 338.73L165.91 333.52M280.73 333.52L285.93 338.73M280.73 338.73L285.93 333.52M313.45 333.52L318.66 338.73M313.45 338.73L318.66 333.52M117.08 344.44L122.28 349.64M117.08 349.64L122.28 344.44M160.72 344.44L165.91 349.64M160.72 349.64L165.91 344.44M280.73 344.44L285.93 349.64M280.73 349.64L285.93 344.44M324.37 344.44L329.57 349.64M324.37 349.64L329.57 344.44M117.08 355.34L122.28 360.55M117.08 360.55L122.28 355.34M160.72 355.34L165.91 360.55M160.72 360.55L165.91 355.34M313.45 355.34L318.66 360.55M313.45 360.55L318.66 355.34M117.08 366.25L122.28 371.46M117.08 371.46L122.28 366.25M160.72 366.25L165.91 371.46M160.72 371.46L165.91 366.25M280.73 366.25L285.93 371.46M280.73 371.46L285.93 366.25M117.08 377.16L122.28 382.37M117.08 382.37L122.28 377.16M160.72 377.16L165.91 382.37M160.72 382.37L165.91 377.16M280.73 377.16L285.93 382.37M280.73 382.37L285.93 377.16M117.08 388.07L122.28 393.28M117.08 393.28L122.28 388.07M160.72 388.07L165.91 393.28M160.72 393.28L165.91 388.07M280.73 388.07L285.93 393.28M280.73 393.28L285.93 388.07M117.08 398.99L122.28 404.19M117.08 404.19L122.28 398.99M160.72 398.99L165.91 404.19M160.72 404.19L165.91 398.99M280.73 398.99L285.93 404.19M280.73 404.19L285.93 398.99M324.37 398.99L329.57 404.19M324.37 404.19L329.57 398.99M117.08 409.89L122.28 415.10M117.08 415.10L122.28 409.89M160.72 409.89L165.91 415.10M160.72 415.10L165.91 409.89M280.73 409.89L285.93 415.10M280.73 415.10L285.93 409.89M313.45 409.89L318.66 415.10M313.45 415.10L318.66 409.89M127.99 420.80L133.19 426.00M127.99 426.00L133.19 420.80M138.90 420.80L144.09 426.00M138.90 426.00L144.09 420.80M149.81 420.80L155.00 426.00M149.81 426.00L155.00 420.80M171.63 420.80L176.83 426.00M171.63 426.00L176.83 420.80M182.53 420.80L187.73 426.00M182.53 426.00L187.73 420.80M193.45 420.80L198.65 426.00M193.45 426.00L198.65 420.80M204.36 420.80L209.56 426.00M204.36 426.00L209.56 420.80M215.27 420.80L220.47 426.00M215.27 426.00L220.47 420.80M226.18 420.80L231.38 426.00M226.18 426.00L231.38 420.80M237.09 420.80L242.28 426.00M237.09 426.00L242.28 420.80M248.00 420.80L253.19 426.00M248.00 426.00L253.19 420.80M258.90 420.80L264.11 426.00M258.90 426.00L264.11 420.80M269.81 420.80L275.02 426.00M269.81 426.00L275.02 420.80M291.63 420.80L296.84 426.00M291.63 426.00L296.84 420.80M302.54 420.80L307.75 426.00M302.54 426.00L307.75 420.80M313.45 420.80L318.66 426.00M313.45 426.00L318.66 420.80M324.37 420.80L329.57 426.00M324.37 426.00L329.57 420.80M117.08 431.72L122.28 436.92M117.08 436.92L122.28 431.72M160.72 431.72L165.91 436.92M160.72 436.92L165.91 431.72M280.73 431.72L285.93 436.92M280.73 436.92L285.93 431.72M160.72 442.62L165.91 447.83M160.72 447.83L165.91 442.62M280.73 442.62L285.93 447.83M280.73 447.83L285.93 442.62M313.45 442.62L318.66 447.83M313.45 447.83L318.66 442.62M324.37 442.62L329.57 447.83M324.37 447.83L329.57 442.62M160.72 453.53L165.91 458.74M160.72 458.74L165.91 453.53M280.73 453.53L285.93 458.74M280.73 458.74L285.93 453.53M149.81 464.44L155.00 469.65M149.81 469.65L155.00 464.44M171.63 464.44L176.83 469.65M171.63 469.65L176.83 464.44M182.53 464.44L187.73 469.65M182.53 469.65L187.73 464.44M193.45 464.44L198.65 469.65M193.45 469.65L198.65 464.44M204.36 464.44L209.56 469.65M204.36 469.65L209.56 464.44M215.27 464.44L220.47 469.65M215.27 469.65L220.47 464.44M226.18 464.44L231.38 469.65M226.18 469.65L231.38 464.44M237.09 464.44L242.28 469.65M237.09 469.65L242.28 464.44M248.00 464.44L253.19 469.65M248.00 469.65L253.19 464.44M258.90 464.44L264.11 469.65M258.90 469.65L264.11 464.44M269.81 464.44L275.02 469.65M269.81 469.65L275.02 464.44M291.63 464.44L296.84 469.65M291.63 469.65L296.84 464.44M302.54 464.44L307.75 469.65M302.54 469.65L307.75 464.44M313.45 464.44L318.66 469.65M313.45 469.65L318.66 464.44M324.37 464.44L329.57 469.65M324.37 469.65L329.57 464.44M269.81 475.36L275.02 480.56M269.81 480.56L275.02 475.36M291.63 475.36L296.84 480.56M291.63 480.56L296.84 475.36M302.54 475.36L307.75 480.56M302.54 480.56L307.75 475.36M313.45 475.36L318.66 480.56M313.45 480.56L318.66 475.36M324.37 475.36L329.57 480.56M324.37 480.56L329.57 475.36" stroke="#4a4242" stroke-width="0.6" fill="none" stroke-linecap="butt"/>
<g font-size="6" fill="#444"><text x="88.6" y="261.90" text-anchor="end">POLR2A_217420_s_at</text><text x="88.6" y="272.81" text-anchor="end">SP1_1553685_s_at</text><text x="88.6" y="283.72" text-anchor="end">CREB1_225572_at</text><text x="88.6" y="294.63" text-anchor="end">USF1_231768_at</text><text x="88.6" y="305.54" text-anchor="end">TGFB2_220406_at</text><text x="88.6" y="316.45" text-anchor="end">ATF2_212984_at</text><text x="88.6" y="327.37" text-anchor="end">EP300_213579_s_at</text><text x="88.6" y="338.27" text-anchor="end">EP300_202221_s_at</text><text x="88.6" y="349.19" text-anchor="end">CREB1_237289_at</text><text x="88.6" y="360.09" text-anchor="end">FOXO3_231548_at</text><text x="88.6" y="371.00" text-anchor="end">CREB1_214513_s_at</text><text x="88.6" y="381.91" text-anchor="end">ATF2_205446_s_at</text><text x="88.6" y="392.82" text-anchor="end">CREB1_204312_x_at</text><text x="88.6" y="403.74" text-anchor="end">CREB1_204313_s_at</text><text x="88.6" y="414.64" text-anchor="end">CREB1_204314_s_at</text><text x="88.6" y="425.55" text-anchor="end">TGFB2_209908_s_at</text><text x="88.6" y="436.47" text-anchor="end">ATF1_1565269_s_at</text><text x="88.6" y="447.38" text-anchor="end">ATF1_222103_at</text><text x="88.6" y="458.28" text-anchor="end">ATF1_1558233_s_at</text><text x="88.6" y="469.19" text-anchor="end">TGFB2_228121_at</text><text x="88.6" y="480.11" text-anchor="end">TGFB2_209909_s_at</text><text x="88.6" y="491.01" text-anchor="end">TGFB2_220407_s_at</text></g>
<g font-size="6.1" fill="#444"><text transform="translate(97.66 498.2) rotate(-45)" text-anchor="end" y="4.3">TGFB2_220407_s_at</text><text transform="translate(108.57 498.2) rotate(-45)" text-anchor="end" y="4.3">TGFB2_209909_s_at</text><text transform="translate(119.48 498.2) rotate(-45)" text-anchor="end" y="4.3">TGFB2_228121_at</text><text transform="translate(130.39 498.2) rotate(-45)" text-anchor="end" y="4.3">ATF1_1558233_s_at</text><text transform="translate(141.30 498.2) rotate(-45)" text-anchor="end" y="4.3">ATF1_222103_at</text><text transform="translate(152.21 498.2) rotate(-45)" text-anchor="end" y="4.3">ATF1_1565269_s_at</text><text transform="translate(163.12 498.2) rotate(-45)" text-anchor="end" y="4.3">TGFB2_209908_s_at</text><text transform="translate(174.03 498.2) rotate(-45)" text-anchor="end" y="4.3">CREB1_204314_s_at</text><text transform="translate(184.94 498.2) rotate(-45)" text-anchor="end" y="4.3">CREB1_204313_s_at</text><text transform="translate(195.85 498.2) rotate(-45)" text-anchor="end" y="4.3">CREB1_204312_x_at</text><text transform="translate(206.76 498.2) rotate(-45)" text-anchor="end" y="4.3">ATF2_205446_s_at</text><text transform="translate(217.67 498.2) rotate(-45)" text-anchor="end" y="4.3">CREB1_214513_s_at</text><text transform="translate(228.58 498.2) rotate(-45)" text-anchor="end" y="4.3">FOXO3_231548_at</text><text transform="translate(239.49 498.2) rotate(-45)" text-anchor="end" y="4.3">CREB1_237289_at</text><text transform="translate(250.40 498.2) rotate(-45)" text-anchor="end" y="4.3">EP300_202221_s_at</text><text transform="translate(261.31 498.2) rotate(-45)" text-anchor="end" y="4.3">EP300_213579_s_at</text><text transform="translate(272.22 498.2) rotate(-45)" text-anchor="end" y="4.3">ATF2_212984_at</text><text transform="translate(283.13 498.2) rotate(-45)" text-anchor="end" y="4.3">TGFB2_220406_at</text><text transform="translate(294.04 498.2) rotate(-45)" text-anchor="end" y="4.3">USF1_231768_at</text><text transform="translate(304.94 498.2) rotate(-45)" text-anchor="end" y="4.3">CREB1_225572_at</text><text transform="translate(315.86 498.2) rotate(-45)" text-anchor="end" y="4.3">SP1_1553685_s_at</text><text transform="translate(326.77 498.2) rotate(-45)" text-anchor="end" y="4.3">POLR2A_217420_s_at</text></g>
<text x="341.4" y="353.6" font-size="5.4" fill="#222">Corr</text>
<rect x="341.6" y="356.8" width="9" height="43" fill="url(#cbB)"/>
<g font-size="5.3" font-weight="bold" fill="#111">
<text x="357.5" y="360.2">1.0</text><text x="357.5" y="370">0.5</text><text x="357.5" y="379.6">0.0</text><text x="356" y="391">−0.5</text><text x="356" y="401.6">−1.0</text>
</g>
</svg>
</body></html>
